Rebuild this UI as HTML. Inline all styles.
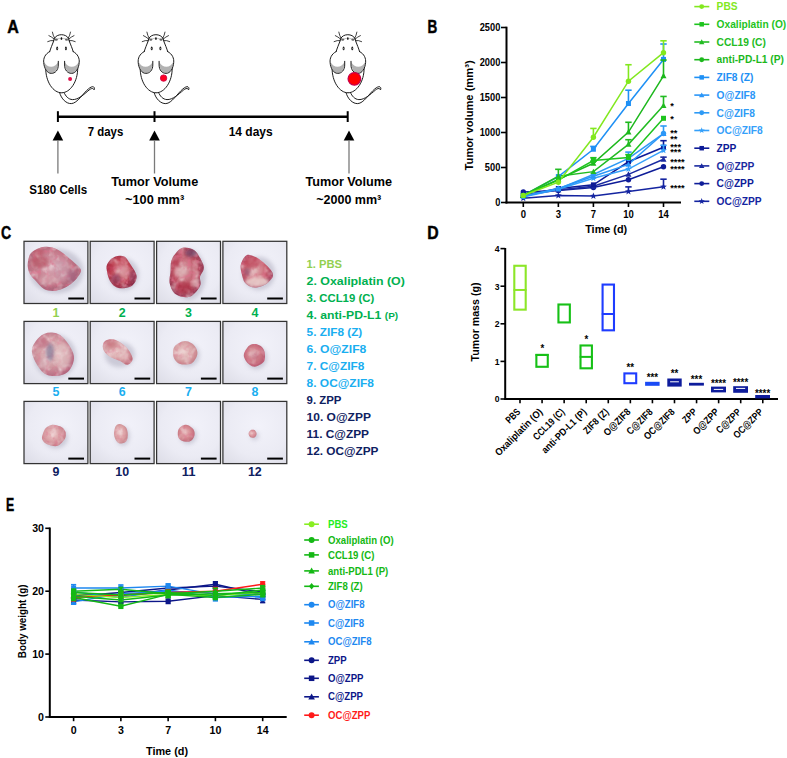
<!DOCTYPE html>
<html><head><meta charset="utf-8"><style>
html,body{margin:0;padding:0;background:#fff;}
svg{display:block;font-family:"Liberation Sans", sans-serif;}
</style></head><body>
<svg width="787" height="758" viewBox="0 0 787 758">
<defs>

<g id="mouse" stroke="#111" stroke-width="0.95" fill="#fff" stroke-linejoin="round" stroke-linecap="round">
 <path d="M -1.7 58.6 C 0 65, 5 69.8, 10 69.6 C 16 69.4, 22 59, 27 55 C 29 53.2, 31 52.4, 32.2 52.8 C 33.2 53.4, 33.4 55, 32.8 55.8 L 32 54.8 C 31.2 54.2, 29.5 54.5, 27.8 56 C 22.6 60.4, 17 65.8, 11.2 65.6 C 7 65.4, 4.2 62, 2.8 58.6 Z"/>
 <path d="M -15.6 34 C -15.8 48, -8 58.8, 0.3 58.8 C 8.6 58.8, 16.6 48, 16.4 34"/>
 <path d="M -11.6 17.6 C -16.4 20, -18 24.5, -17.6 28.5 C -17.2 34.5, -14 39.4, -10 39.4 C -6 39.4, -3 36, -3 31 L -3 27.3 L -3 24 Z" stroke="none"/>
 <path d="M 11.9 17.6 C 16.7 20, 18.3 24.5, 17.9 28.5 C 17.5 34.5, 14.3 39.4, 10.3 39.4 C 6.3 39.4, 3.3 36, 3.3 31 L 3.3 24 Z" stroke="none"/>
 <path d="M -11.6 17.6 C -10.5 14, -9 10.5, -8 8 C -7.6 6.5, -7.4 5.5, -7.0 4.6 C -4.5 -0.6, 4.8 -0.6, 7.3 4.6 C 7.7 5.5, 7.9 6.5, 8.3 8 C 9.3 10.5, 10.8 14, 11.9 17.6 Z" stroke="none"/>
 <path d="M -17.4 27.6 C -17 35, -13.5 39, -10 39 C -6.5 39, -3.4 36.2, -3.2 28 C -4.6 31.2, -7.4 32.8, -10.2 32.8 C -13.2 32.8, -15.8 31.2, -17.4 27.6 Z" fill="#b2b2b2" stroke="none"/>
 <path d="M 17.7 27.6 C 17.3 35, 13.8 39, 10.3 39 C 6.8 39, 3.7 36.2, 3.5 28 C 4.9 31.2, 7.7 32.8, 10.5 32.8 C 13.5 32.8, 16.1 31.2, 17.7 27.6 Z" fill="#b2b2b2" stroke="none"/>
 <path d="M -11.6 17.6 C -16.4 20, -18 24.5, -17.6 28.5 C -17.2 34.5, -14 39.4, -10 39.4 C -6 39.4, -3 36, -3 31 L -3 27.3" fill="none"/>
 <path d="M 11.9 17.6 C 16.7 20, 18.3 24.5, 17.9 28.5 C 17.5 34.5, 14.3 39.4, 10.3 39.4 C 6.3 39.4, 3.3 36, 3.3 31 L 3.3 27.3" fill="none"/>
 <path d="M -11.6 17.6 C -10.5 14, -9 10.5, -8 8 C -7.6 6.5, -7.4 5.5, -7.0 4.6 C -4.5 -0.6, 4.8 -0.6, 7.3 4.6 C 7.7 5.5, 7.9 6.5, 8.3 8 C 9.3 10.5, 10.8 14, 11.9 17.6" fill="none"/>
 <path d="M -5.6 6.0 C -3.5 3.6, 3.8 3.6, 5.9 6.0" fill="none" stroke="#999" stroke-width="0.6"/>
 <path d="M 0.15 2.9 C 1.2 3.8, 1.4 5.4, 0.15 6.1 C -1.1 5.4, -0.9 3.8, 0.15 2.9 Z" fill="#111" stroke="none"/>
 <ellipse cx="-4.1" cy="14.4" rx="0.95" ry="1.9" fill="#111" stroke="none"/><ellipse cx="-4.1" cy="14.6" rx="0.35" ry="0.8" fill="#bbb" stroke="none"/>
 <ellipse cx="4.6" cy="14.4" rx="0.95" ry="1.9" fill="#111" stroke="none"/><ellipse cx="4.6" cy="14.6" rx="0.35" ry="0.8" fill="#bbb" stroke="none"/>
 <path d="M -6.6 4.4 Q -8.4 1.2 -8.9 -1.9 M -6.9 5.2 Q -10 2.6 -12.4 1.6 M -7.4 6.6 Q -10.5 6.0 -13.6 7.6 M 6.9 4.4 Q 8.7 1.2 9.2 -1.9 M 7.2 5.2 Q 10.3 2.6 12.7 1.6 M 7.7 6.6 Q 10.8 6.0 13.9 7.6" fill="none" stroke-width="0.8"/>
 <ellipse cx="-5.0" cy="5.6" rx="1.5" ry="1.2" fill="#666" stroke="none"/>
 <ellipse cx="5.2" cy="5.6" rx="1.5" ry="1.2" fill="#666" stroke="none"/>
</g>
<radialGradient id="bg" cx="0.55" cy="0.4" r="0.8">
 <stop offset="0" stop-color="#f2f2fa"/><stop offset="0.6" stop-color="#ebebf4"/><stop offset="1" stop-color="#dcdce6"/></radialGradient>
<filter id="blur1" x="-30%" y="-30%" width="160%" height="160%"><feGaussianBlur stdDeviation="1.6"/></filter>
<filter id="blur05" x="-30%" y="-30%" width="160%" height="160%"><feGaussianBlur stdDeviation="0.6"/></filter>
<filter id="blur3" x="-50%" y="-50%" width="200%" height="200%"><feGaussianBlur stdDeviation="3"/></filter>
<filter id="mdark" x="0" y="0" width="100%" height="100%" filterUnits="objectBoundingBox">
 <feTurbulence type="fractalNoise" baseFrequency="0.24" numOctaves="2" seed="4"/>
 <feColorMatrix type="matrix" values="0 0 0 0 0.72  0 0 0 0 0.16  0 0 0 0 0.26  3.4 0 0 0 -1.6"/>
 <feComposite operator="in" in2="SourceAlpha"/></filter>
<filter id="mlight" x="0" y="0" width="100%" height="100%" filterUnits="objectBoundingBox">
 <feTurbulence type="fractalNoise" baseFrequency="0.14" numOctaves="2" seed="9"/>
 <feColorMatrix type="matrix" values="0 0 0 0 0.90  0 0 0 0 0.76  0 0 0 0 0.78  2.6 0 0 0 -1.2"/>
 <feComposite operator="in" in2="SourceAlpha"/></filter>
<filter id="edge" x="-20%" y="-20%" width="140%" height="140%"><feGaussianBlur stdDeviation="1.2"/></filter>
<filter id="shadow" x="-50%" y="-50%" width="200%" height="200%"><feGaussianBlur stdDeviation="2.2"/></filter>
<radialGradient id="tg0" cx="0.45" cy="0.45" r="0.62"><stop offset="0" stop-color="#dab0bc"/><stop offset="0.55" stop-color="#c47a8a"/><stop offset="1" stop-color="#a05a72"/></radialGradient>
<clipPath id="tc0"><path d="M 30.60 253.50 C 32.02 251.83, 34.63 250.12, 37.00 249.00 C 39.37 247.88, 42.30 247.05, 44.80 246.80 C 47.30 246.55, 49.47 246.80, 52.00 247.50 C 54.53 248.20, 57.00 249.08, 60.00 251.00 C 63.00 252.92, 67.00 256.50, 70.00 259.00 C 73.00 261.50, 76.18 264.00, 78.00 266.00 C 79.82 268.00, 81.07 269.00, 80.90 271.00 C 80.73 273.00, 78.73 275.80, 77.00 278.00 C 75.27 280.20, 73.00 282.37, 70.50 284.20 C 68.00 286.03, 64.90 287.88, 62.00 289.00 C 59.10 290.12, 56.10 290.90, 53.10 290.90 C 50.10 290.90, 46.77 290.53, 44.00 289.00 C 41.23 287.47, 38.83 284.20, 36.50 281.70 C 34.17 279.20, 31.47 276.62, 30.00 274.00 C 28.53 271.38, 27.95 268.50, 27.70 266.00 C 27.45 263.50, 28.02 261.08, 28.50 259.00 C 28.98 256.92, 29.18 255.17, 30.60 253.50 Z"/></clipPath>
<radialGradient id="tg1" cx="0.45" cy="0.45" r="0.62"><stop offset="0" stop-color="#d8949c"/><stop offset="0.55" stop-color="#c04252"/><stop offset="1" stop-color="#862c48"/></radialGradient>
<clipPath id="tc1"><path d="M 114.90 256.80 C 117.47 255.90, 121.60 255.30, 124.10 256.40 C 126.60 257.50, 127.82 260.15, 129.90 263.40 C 131.98 266.65, 136.32 272.15, 136.60 275.90 C 136.88 279.65, 134.65 283.88, 131.60 285.90 C 128.55 287.92, 121.90 288.83, 118.30 288.00 C 114.70 287.17, 111.95 284.17, 110.00 280.90 C 108.05 277.63, 106.82 271.58, 106.60 268.40 C 106.38 265.22, 107.32 263.73, 108.70 261.80 C 110.08 259.87, 112.33 257.70, 114.90 256.80 Z"/></clipPath>
<radialGradient id="tg2" cx="0.45" cy="0.45" r="0.62"><stop offset="0" stop-color="#d8a4aa"/><stop offset="0.55" stop-color="#bc4e60"/><stop offset="1" stop-color="#843450"/></radialGradient>
<clipPath id="tc2"><path d="M 183.80 247.50 C 186.35 247.02, 189.80 248.08, 192.00 249.00 C 194.20 249.92, 195.17 250.50, 197.00 253.00 C 198.83 255.50, 201.92 261.17, 203.00 264.00 C 204.08 266.83, 204.00 267.87, 203.50 270.00 C 203.00 272.13, 200.50 274.33, 200.00 276.80 C 199.50 279.27, 201.33 282.10, 200.50 284.80 C 199.67 287.50, 197.18 290.92, 195.00 293.00 C 192.82 295.08, 190.75 297.18, 187.40 297.30 C 184.05 297.42, 177.87 296.08, 174.90 293.70 C 171.93 291.32, 170.33 286.62, 169.60 283.00 C 168.87 279.38, 170.22 275.67, 170.50 272.00 C 170.78 268.33, 170.27 264.35, 171.30 261.00 C 172.33 257.65, 174.62 254.15, 176.70 251.90 C 178.78 249.65, 181.25 247.98, 183.80 247.50 Z"/></clipPath>
<radialGradient id="tg3" cx="0.45" cy="0.45" r="0.62"><stop offset="0" stop-color="#e2bcbc"/><stop offset="0.55" stop-color="#c85e6e"/><stop offset="1" stop-color="#9a4260"/></radialGradient>
<clipPath id="tc3"><path d="M 249.60 254.90 C 252.27 255.35, 256.43 256.85, 260.30 259.90 C 264.17 262.95, 271.62 269.35, 272.80 273.20 C 273.98 277.05, 270.37 280.62, 267.40 283.00 C 264.43 285.38, 258.70 287.50, 255.00 287.50 C 251.30 287.50, 247.43 285.38, 245.20 283.00 C 242.97 280.62, 242.35 276.17, 241.60 273.20 C 240.85 270.23, 240.25 267.87, 240.70 265.20 C 241.15 262.53, 242.82 258.92, 244.30 257.20 C 245.78 255.48, 246.93 254.45, 249.60 254.90 Z"/></clipPath>
<radialGradient id="tg4" cx="0.45" cy="0.45" r="0.62"><stop offset="0" stop-color="#e2c6c8"/><stop offset="0.55" stop-color="#cf98a0"/><stop offset="1" stop-color="#b0607a"/></radialGradient>
<clipPath id="tc4"><path d="M 50.60 332.60 C 54.62 332.60, 59.22 333.72, 63.10 337.60 C 66.98 341.48, 73.08 350.22, 73.90 355.90 C 74.72 361.58, 71.33 368.37, 68.00 371.70 C 64.67 375.03, 58.32 376.03, 53.90 375.90 C 49.48 375.77, 45.17 374.92, 41.50 370.90 C 37.83 366.88, 32.32 357.35, 31.90 351.80 C 31.48 346.25, 35.88 340.80, 39.00 337.60 C 42.12 334.40, 46.58 332.60, 50.60 332.60 Z"/></clipPath>
<radialGradient id="tg5" cx="0.45" cy="0.45" r="0.62"><stop offset="0" stop-color="#e8c6c6"/><stop offset="0.55" stop-color="#d6a0a4"/><stop offset="1" stop-color="#c06c7a"/></radialGradient>
<clipPath id="tc5"><path d="M 105.00 341.00 C 107.00 339.55, 111.45 338.75, 115.00 339.80 C 118.55 340.85, 123.37 344.18, 126.30 347.30 C 129.23 350.42, 132.40 355.58, 132.60 358.50 C 132.80 361.42, 129.60 364.38, 127.50 364.80 C 125.40 365.22, 123.12 362.47, 120.00 361.00 C 116.88 359.53, 111.63 358.08, 108.80 356.00 C 105.97 353.92, 103.63 351.00, 103.00 348.50 C 102.37 346.00, 103.00 342.45, 105.00 341.00 Z"/></clipPath>
<radialGradient id="tg6" cx="0.45" cy="0.45" r="0.62"><stop offset="0" stop-color="#ecd0ce"/><stop offset="0.55" stop-color="#daa8aa"/><stop offset="1" stop-color="#c07880"/></radialGradient>
<radialGradient id="tg7" cx="0.45" cy="0.45" r="0.62"><stop offset="0" stop-color="#e4b8ba"/><stop offset="0.55" stop-color="#cc7884"/><stop offset="1" stop-color="#b0506a"/></radialGradient>
<clipPath id="tc7"><path d="M 264.97 355.30 C 265.03 357.22, 264.99 359.58, 264.13 361.16 C 263.27 362.74, 261.36 363.86, 259.79 364.79 C 258.22 365.73, 256.39 366.79, 254.70 366.79 C 253.01 366.78, 251.11 365.75, 249.62 364.76 C 248.14 363.77, 246.76 362.41, 245.79 360.84 C 244.82 359.26, 243.78 357.14, 243.78 355.30 C 243.79 353.46, 244.88 351.43, 245.82 349.78 C 246.75 348.13, 247.91 346.36, 249.39 345.40 C 250.87 344.45, 252.94 344.01, 254.70 344.04 C 256.46 344.06, 258.42 344.61, 259.93 345.55 C 261.45 346.49, 262.95 348.03, 263.79 349.65 C 264.63 351.28, 264.91 353.38, 264.97 355.30 Z"/></clipPath>
<radialGradient id="tg8" cx="0.45" cy="0.45" r="0.62"><stop offset="0" stop-color="#ecc8c8"/><stop offset="0.55" stop-color="#d89ca2"/><stop offset="1" stop-color="#c07480"/></radialGradient>
<radialGradient id="tg9" cx="0.45" cy="0.45" r="0.62"><stop offset="0" stop-color="#eccccc"/><stop offset="0.55" stop-color="#dca4a6"/><stop offset="1" stop-color="#c07c84"/></radialGradient>
<radialGradient id="tg10" cx="0.45" cy="0.45" r="0.62"><stop offset="0" stop-color="#e8bcbe"/><stop offset="0.55" stop-color="#d4888f"/><stop offset="1" stop-color="#b86474"/></radialGradient>
<radialGradient id="tg11" cx="0.45" cy="0.45" r="0.62"><stop offset="0" stop-color="#ecc4c4"/><stop offset="0.55" stop-color="#d8949a"/><stop offset="1" stop-color="#c07480"/></radialGradient>
</defs>
<rect width="787" height="758" fill="#fff"/>
<text x="7.30" y="33.30" font-size="18.5" fill="#000" text-anchor="start" font-weight="bold" textLength="11.60" lengthAdjust="spacingAndGlyphs" stroke="#000" stroke-width="0.45">A</text>
<text x="427.60" y="33.00" font-size="18.5" fill="#000" text-anchor="start" font-weight="bold" textLength="9.80" lengthAdjust="spacingAndGlyphs" stroke="#000" stroke-width="0.45">B</text>
<text x="1.10" y="239.00" font-size="19" fill="#000" text-anchor="start" font-weight="bold" textLength="10.20" lengthAdjust="spacingAndGlyphs" stroke="#000" stroke-width="0.45">C</text>
<text x="427.20" y="238.60" font-size="17.5" fill="#000" text-anchor="start" font-weight="bold" textLength="11.40" lengthAdjust="spacingAndGlyphs" stroke="#000" stroke-width="0.45">D</text>
<text x="5.90" y="510.60" font-size="19" fill="#000" text-anchor="start" font-weight="bold" textLength="8.20" lengthAdjust="spacingAndGlyphs" stroke="#000" stroke-width="0.45">E</text>
<use href="#mouse" x="61.3" y="34"/>
<use href="#mouse" x="155.8" y="34"/>
<use href="#mouse" x="347.7" y="34"/>
<circle cx="70.1" cy="78.9" r="2.0" fill="#e0104a"/>
<circle cx="163.6" cy="78.1" r="3.2" fill="#ff0022" stroke="#d0084a" stroke-width="0.9"/>
<circle cx="354.4" cy="78.85" r="6.3" fill="#ff0000" stroke="#c8004a" stroke-width="1.3"/>
<line x1="57.90" y1="116.70" x2="347.70" y2="116.70" stroke="#000" stroke-width="2.6"/>
<line x1="57.90" y1="111.20" x2="57.90" y2="122.00" stroke="#000" stroke-width="2.0"/>
<line x1="154.50" y1="111.20" x2="154.50" y2="122.00" stroke="#000" stroke-width="2.0"/>
<line x1="347.70" y1="111.20" x2="347.70" y2="122.00" stroke="#000" stroke-width="2.0"/>
<path d="M 57.90 130.4 L 63.20 140.4 L 52.60 140.4 Z" fill="#000"/>
<line x1="57.90" y1="140.00" x2="57.90" y2="173.50" stroke="#7a7a7a" stroke-width="1.3"/>
<path d="M 154.50 130.4 L 159.80 140.4 L 149.20 140.4 Z" fill="#000"/>
<line x1="154.50" y1="140.00" x2="154.50" y2="173.50" stroke="#7a7a7a" stroke-width="1.3"/>
<path d="M 349.00 130.4 L 354.30 140.4 L 343.70 140.4 Z" fill="#000"/>
<line x1="349.00" y1="140.00" x2="349.00" y2="173.50" stroke="#7a7a7a" stroke-width="1.3"/>
<text x="105.50" y="135.60" font-size="12.5" fill="#000" text-anchor="middle" font-weight="bold" textLength="35.50" lengthAdjust="spacingAndGlyphs">7 days</text>
<text x="250.70" y="135.60" font-size="12.5" fill="#000" text-anchor="middle" font-weight="bold" textLength="44.00" lengthAdjust="spacingAndGlyphs">14 days</text>
<text x="29.20" y="194.40" font-size="12.5" fill="#000" text-anchor="start" font-weight="bold" textLength="57.90" lengthAdjust="spacingAndGlyphs">S180 Cells</text>
<text x="111.30" y="186.20" font-size="12.5" fill="#000" text-anchor="start" font-weight="bold" textLength="86.90" lengthAdjust="spacingAndGlyphs">Tumor Volume</text>
<text x="125.00" y="203.60" font-size="12.5" fill="#000" text-anchor="start" font-weight="bold" textLength="59.20" lengthAdjust="spacingAndGlyphs">~100 mm³</text>
<text x="305.50" y="186.20" font-size="12.5" fill="#000" text-anchor="start" font-weight="bold" textLength="86.50" lengthAdjust="spacingAndGlyphs">Tumor Volume</text>
<text x="316.20" y="203.60" font-size="12.5" fill="#000" text-anchor="start" font-weight="bold" textLength="65.10" lengthAdjust="spacingAndGlyphs">~2000 mm³</text>
<line x1="506.50" y1="26.70" x2="506.50" y2="203.50" stroke="#000" stroke-width="2"/>
<line x1="505.50" y1="202.50" x2="681.00" y2="202.50" stroke="#000" stroke-width="2"/>
<line x1="501.00" y1="202.50" x2="506.50" y2="202.50" stroke="#000" stroke-width="1.6"/>
<text x="500.30" y="205.90" font-size="10.2" fill="#000" text-anchor="end" font-weight="bold" textLength="5.15" lengthAdjust="spacingAndGlyphs">0</text>
<line x1="501.00" y1="167.50" x2="506.50" y2="167.50" stroke="#000" stroke-width="1.6"/>
<text x="500.30" y="170.90" font-size="10.2" fill="#000" text-anchor="end" font-weight="bold" textLength="15.45" lengthAdjust="spacingAndGlyphs">500</text>
<line x1="501.00" y1="132.50" x2="506.50" y2="132.50" stroke="#000" stroke-width="1.6"/>
<text x="500.30" y="135.90" font-size="10.2" fill="#000" text-anchor="end" font-weight="bold" textLength="20.60" lengthAdjust="spacingAndGlyphs">1000</text>
<line x1="501.00" y1="97.50" x2="506.50" y2="97.50" stroke="#000" stroke-width="1.6"/>
<text x="500.30" y="100.90" font-size="10.2" fill="#000" text-anchor="end" font-weight="bold" textLength="20.60" lengthAdjust="spacingAndGlyphs">1500</text>
<line x1="501.00" y1="62.50" x2="506.50" y2="62.50" stroke="#000" stroke-width="1.6"/>
<text x="500.30" y="65.90" font-size="10.2" fill="#000" text-anchor="end" font-weight="bold" textLength="20.60" lengthAdjust="spacingAndGlyphs">2000</text>
<line x1="501.00" y1="27.50" x2="506.50" y2="27.50" stroke="#000" stroke-width="1.6"/>
<text x="500.30" y="30.90" font-size="10.2" fill="#000" text-anchor="end" font-weight="bold" textLength="20.60" lengthAdjust="spacingAndGlyphs">2500</text>
<line x1="523.30" y1="202.50" x2="523.30" y2="207.00" stroke="#000" stroke-width="1.6"/>
<text x="523.30" y="217.80" font-size="10.6" fill="#000" text-anchor="middle" font-weight="bold" textLength="5.30" lengthAdjust="spacingAndGlyphs">0</text>
<line x1="558.35" y1="202.50" x2="558.35" y2="207.00" stroke="#000" stroke-width="1.6"/>
<text x="558.35" y="217.80" font-size="10.6" fill="#000" text-anchor="middle" font-weight="bold" textLength="5.30" lengthAdjust="spacingAndGlyphs">3</text>
<line x1="593.40" y1="202.50" x2="593.40" y2="207.00" stroke="#000" stroke-width="1.6"/>
<text x="593.40" y="217.80" font-size="10.6" fill="#000" text-anchor="middle" font-weight="bold" textLength="5.30" lengthAdjust="spacingAndGlyphs">7</text>
<line x1="628.45" y1="202.50" x2="628.45" y2="207.00" stroke="#000" stroke-width="1.6"/>
<text x="628.45" y="217.80" font-size="10.6" fill="#000" text-anchor="middle" font-weight="bold" textLength="10.60" lengthAdjust="spacingAndGlyphs">10</text>
<line x1="663.50" y1="202.50" x2="663.50" y2="207.00" stroke="#000" stroke-width="1.6"/>
<text x="663.50" y="217.80" font-size="10.6" fill="#000" text-anchor="middle" font-weight="bold" textLength="10.60" lengthAdjust="spacingAndGlyphs">14</text>
<text x="606.20" y="233.10" font-size="11" fill="#000" text-anchor="middle" font-weight="bold" textLength="42.00" lengthAdjust="spacingAndGlyphs">Time (d)</text>
<text x="472.80" y="115.40" font-size="11" fill="#000" text-anchor="middle" font-weight="bold" textLength="110.00" lengthAdjust="spacingAndGlyphs" transform="rotate(-90 472.80 115.40)">Tumor volume (mm³)</text>
<polyline points="523.30,198.30 558.35,195.50 593.40,196.06 628.45,191.51 663.50,186.75" fill="none" stroke="#1424a0" stroke-width="1.5"/>
<polyline points="523.30,192.00 558.35,190.60 593.40,187.59 628.45,179.68 663.50,166.80" fill="none" stroke="#0e1c98" stroke-width="1.5"/>
<polyline points="523.30,195.50 558.35,189.90 593.40,186.26 628.45,174.36 663.50,159.24" fill="none" stroke="#1a2aa0" stroke-width="1.5"/>
<polyline points="523.30,195.50 558.35,188.50 593.40,184.86 628.45,161.76 663.50,147.27" fill="none" stroke="#0c1a96" stroke-width="1.5"/>
<polyline points="523.30,196.90 558.35,189.20 593.40,178.28 628.45,169.04 663.50,150.42" fill="none" stroke="#35a0fa" stroke-width="1.5"/>
<polyline points="523.30,196.20 558.35,188.85 593.40,174.50 628.45,158.40 663.50,133.55" fill="none" stroke="#2e9af5" stroke-width="1.5"/>
<polyline points="523.30,196.20 558.35,188.50 593.40,176.32 628.45,164.42 663.50,133.55" fill="none" stroke="#2a96f8" stroke-width="1.5"/>
<polyline points="523.30,195.50 558.35,176.60 593.40,149.23 628.45,103.52 663.50,59.42" fill="none" stroke="#1e90f5" stroke-width="1.5"/>
<polyline points="523.30,195.50 558.35,179.40 593.40,163.30 628.45,132.08 663.50,75.80" fill="none" stroke="#1cb81c" stroke-width="1.5"/>
<polyline points="523.30,195.50 558.35,176.32 593.40,171.63 628.45,144.33 663.50,105.55" fill="none" stroke="#22bb22" stroke-width="1.5"/>
<polyline points="523.30,195.50 558.35,180.10 593.40,160.50 628.45,157.42 663.50,118.29" fill="none" stroke="#1ec41e" stroke-width="1.5"/>
<polyline points="523.30,195.50 558.35,182.20 593.40,137.26 628.45,81.19 663.50,52.70" fill="none" stroke="#82e81e" stroke-width="1.5"/>
<polygon points="523.30,194.70 524.18,197.09 526.72,197.19 524.73,198.76 525.42,201.21 523.30,199.80 521.18,201.21 521.87,198.76 519.88,197.19 522.42,197.09" fill="#1424a0"/>
<polygon points="558.35,191.90 559.23,194.29 561.77,194.39 559.78,195.96 560.47,198.41 558.35,197.00 556.23,198.41 556.92,195.96 554.93,194.39 557.47,194.29" fill="#1424a0"/>
<polygon points="593.40,192.46 594.28,194.85 596.82,194.95 594.83,196.52 595.52,198.97 593.40,197.56 591.28,198.97 591.97,196.52 589.98,194.95 592.52,194.85" fill="#1424a0"/>
<line x1="628.45" y1="191.51" x2="628.45" y2="186.89" stroke="#1424a0" stroke-width="1.6"/>
<line x1="625.25" y1="186.89" x2="631.65" y2="186.89" stroke="#1424a0" stroke-width="1.6"/>
<polygon points="628.45,187.91 629.33,190.30 631.87,190.40 629.88,191.97 630.57,194.42 628.45,193.01 626.33,194.42 627.02,191.97 625.03,190.40 627.57,190.30" fill="#1424a0"/>
<line x1="663.50" y1="186.75" x2="663.50" y2="179.19" stroke="#1424a0" stroke-width="1.6"/>
<line x1="660.30" y1="179.19" x2="666.70" y2="179.19" stroke="#1424a0" stroke-width="1.6"/>
<polygon points="663.50,183.15 664.38,185.54 666.92,185.64 664.93,187.21 665.62,189.66 663.50,188.25 661.38,189.66 662.07,187.21 660.08,185.64 662.62,185.54" fill="#1424a0"/>
<circle cx="523.30" cy="192.00" r="2.70" fill="#0e1c98"/>
<circle cx="558.35" cy="190.60" r="2.70" fill="#0e1c98"/>
<circle cx="593.40" cy="187.59" r="2.70" fill="#0e1c98"/>
<circle cx="628.45" cy="179.68" r="2.70" fill="#0e1c98"/>
<circle cx="663.50" cy="166.80" r="2.70" fill="#0e1c98"/>
<path d="M 523.30 192.50 L 526.30 197.90 L 520.30 197.90 Z" fill="#1a2aa0"/>
<path d="M 558.35 186.90 L 561.35 192.30 L 555.35 192.30 Z" fill="#1a2aa0"/>
<path d="M 593.40 183.26 L 596.40 188.66 L 590.40 188.66 Z" fill="#1a2aa0"/>
<path d="M 628.45 171.36 L 631.45 176.76 L 625.45 176.76 Z" fill="#1a2aa0"/>
<line x1="663.50" y1="159.24" x2="663.50" y2="157.14" stroke="#1a2aa0" stroke-width="1.6"/>
<line x1="660.30" y1="157.14" x2="666.70" y2="157.14" stroke="#1a2aa0" stroke-width="1.6"/>
<path d="M 663.50 156.24 L 666.50 161.64 L 660.50 161.64 Z" fill="#1a2aa0"/>
<rect x="520.80" y="193.00" width="5.00" height="5.00" fill="#0c1a96"/>
<rect x="555.85" y="186.00" width="5.00" height="5.00" fill="#0c1a96"/>
<rect x="590.90" y="182.36" width="5.00" height="5.00" fill="#0c1a96"/>
<rect x="625.95" y="159.26" width="5.00" height="5.00" fill="#0c1a96"/>
<line x1="663.50" y1="147.27" x2="663.50" y2="140.69" stroke="#0c1a96" stroke-width="1.6"/>
<line x1="660.30" y1="140.69" x2="666.70" y2="140.69" stroke="#0c1a96" stroke-width="1.6"/>
<rect x="661.00" y="144.77" width="5.00" height="5.00" fill="#0c1a96"/>
<polygon points="523.30,193.30 524.18,195.69 526.72,195.79 524.73,197.36 525.42,199.81 523.30,198.40 521.18,199.81 521.87,197.36 519.88,195.79 522.42,195.69" fill="#35a0fa"/>
<polygon points="558.35,185.60 559.23,187.99 561.77,188.09 559.78,189.66 560.47,192.11 558.35,190.70 556.23,192.11 556.92,189.66 554.93,188.09 557.47,187.99" fill="#35a0fa"/>
<polygon points="593.40,174.68 594.28,177.07 596.82,177.17 594.83,178.74 595.52,181.19 593.40,179.78 591.28,181.19 591.97,178.74 589.98,177.17 592.52,177.07" fill="#35a0fa"/>
<polygon points="628.45,165.44 629.33,167.83 631.87,167.93 629.88,169.50 630.57,171.95 628.45,170.54 626.33,171.95 627.02,169.50 625.03,167.93 627.57,167.83" fill="#35a0fa"/>
<line x1="663.50" y1="150.42" x2="663.50" y2="145.31" stroke="#35a0fa" stroke-width="1.6"/>
<line x1="660.30" y1="145.31" x2="666.70" y2="145.31" stroke="#35a0fa" stroke-width="1.6"/>
<polygon points="663.50,146.82 664.38,149.21 666.92,149.31 664.93,150.88 665.62,153.33 663.50,151.92 661.38,153.33 662.07,150.88 660.08,149.31 662.62,149.21" fill="#35a0fa"/>
<circle cx="523.30" cy="196.20" r="2.70" fill="#2e9af5"/>
<circle cx="558.35" cy="188.85" r="2.70" fill="#2e9af5"/>
<circle cx="593.40" cy="174.50" r="2.70" fill="#2e9af5"/>
<line x1="628.45" y1="158.40" x2="628.45" y2="152.10" stroke="#2e9af5" stroke-width="1.6"/>
<line x1="625.25" y1="152.10" x2="631.65" y2="152.10" stroke="#2e9af5" stroke-width="1.6"/>
<circle cx="628.45" cy="158.40" r="2.70" fill="#2e9af5"/>
<line x1="663.50" y1="133.55" x2="663.50" y2="125.99" stroke="#2e9af5" stroke-width="1.6"/>
<line x1="660.30" y1="125.99" x2="666.70" y2="125.99" stroke="#2e9af5" stroke-width="1.6"/>
<circle cx="663.50" cy="133.55" r="2.70" fill="#2e9af5"/>
<path d="M 523.30 193.20 L 526.30 198.60 L 520.30 198.60 Z" fill="#2a96f8"/>
<path d="M 558.35 185.50 L 561.35 190.90 L 555.35 190.90 Z" fill="#2a96f8"/>
<path d="M 593.40 173.32 L 596.40 178.72 L 590.40 178.72 Z" fill="#2a96f8"/>
<path d="M 628.45 161.42 L 631.45 166.82 L 625.45 166.82 Z" fill="#2a96f8"/>
<path d="M 663.50 130.55 L 666.50 135.95 L 660.50 135.95 Z" fill="#2a96f8"/>
<rect x="520.80" y="193.00" width="5.00" height="5.00" fill="#1e90f5"/>
<rect x="555.85" y="174.10" width="5.00" height="5.00" fill="#1e90f5"/>
<line x1="593.40" y1="149.23" x2="593.40" y2="146.43" stroke="#1e90f5" stroke-width="1.6"/>
<line x1="590.20" y1="146.43" x2="596.60" y2="146.43" stroke="#1e90f5" stroke-width="1.6"/>
<rect x="590.90" y="146.73" width="5.00" height="5.00" fill="#1e90f5"/>
<line x1="628.45" y1="103.52" x2="628.45" y2="90.22" stroke="#1e90f5" stroke-width="1.6"/>
<line x1="625.25" y1="90.22" x2="631.65" y2="90.22" stroke="#1e90f5" stroke-width="1.6"/>
<rect x="625.95" y="101.02" width="5.00" height="5.00" fill="#1e90f5"/>
<line x1="663.50" y1="59.42" x2="663.50" y2="44.02" stroke="#1e90f5" stroke-width="1.6"/>
<line x1="660.30" y1="44.02" x2="666.70" y2="44.02" stroke="#1e90f5" stroke-width="1.6"/>
<rect x="661.00" y="56.92" width="5.00" height="5.00" fill="#1e90f5"/>
<path d="M 523.30 192.50 L 526.30 197.90 L 520.30 197.90 Z" fill="#1cb81c"/>
<path d="M 558.35 176.40 L 561.35 181.80 L 555.35 181.80 Z" fill="#1cb81c"/>
<line x1="593.40" y1="163.30" x2="593.40" y2="161.20" stroke="#1cb81c" stroke-width="1.6"/>
<line x1="590.20" y1="161.20" x2="596.60" y2="161.20" stroke="#1cb81c" stroke-width="1.6"/>
<path d="M 593.40 160.30 L 596.40 165.70 L 590.40 165.70 Z" fill="#1cb81c"/>
<line x1="628.45" y1="132.08" x2="628.45" y2="122.28" stroke="#1cb81c" stroke-width="1.6"/>
<line x1="625.25" y1="122.28" x2="631.65" y2="122.28" stroke="#1cb81c" stroke-width="1.6"/>
<path d="M 628.45 129.08 L 631.45 134.48 L 625.45 134.48 Z" fill="#1cb81c"/>
<line x1="663.50" y1="75.80" x2="663.50" y2="60.05" stroke="#1cb81c" stroke-width="1.6"/>
<line x1="660.30" y1="60.05" x2="666.70" y2="60.05" stroke="#1cb81c" stroke-width="1.6"/>
<path d="M 663.50 72.80 L 666.50 78.20 L 660.50 78.20 Z" fill="#1cb81c"/>
<path d="M 523.30 192.50 L 526.30 197.90 L 520.30 197.90 Z" fill="#22bb22"/>
<line x1="558.35" y1="176.32" x2="558.35" y2="169.32" stroke="#22bb22" stroke-width="1.6"/>
<line x1="555.15" y1="169.32" x2="561.55" y2="169.32" stroke="#22bb22" stroke-width="1.6"/>
<path d="M 558.35 173.32 L 561.35 178.72 L 555.35 178.72 Z" fill="#22bb22"/>
<path d="M 593.40 168.63 L 596.40 174.03 L 590.40 174.03 Z" fill="#22bb22"/>
<line x1="628.45" y1="144.33" x2="628.45" y2="139.71" stroke="#22bb22" stroke-width="1.6"/>
<line x1="625.25" y1="139.71" x2="631.65" y2="139.71" stroke="#22bb22" stroke-width="1.6"/>
<path d="M 628.45 141.33 L 631.45 146.73 L 625.45 146.73 Z" fill="#22bb22"/>
<line x1="663.50" y1="105.55" x2="663.50" y2="96.45" stroke="#22bb22" stroke-width="1.6"/>
<line x1="660.30" y1="96.45" x2="666.70" y2="96.45" stroke="#22bb22" stroke-width="1.6"/>
<path d="M 663.50 102.55 L 666.50 107.95 L 660.50 107.95 Z" fill="#22bb22"/>
<rect x="520.80" y="193.00" width="5.00" height="5.00" fill="#1ec41e"/>
<rect x="555.85" y="177.60" width="5.00" height="5.00" fill="#1ec41e"/>
<line x1="593.40" y1="160.50" x2="593.40" y2="157.70" stroke="#1ec41e" stroke-width="1.6"/>
<line x1="590.20" y1="157.70" x2="596.60" y2="157.70" stroke="#1ec41e" stroke-width="1.6"/>
<rect x="590.90" y="158.00" width="5.00" height="5.00" fill="#1ec41e"/>
<line x1="628.45" y1="157.42" x2="628.45" y2="154.62" stroke="#1ec41e" stroke-width="1.6"/>
<line x1="625.25" y1="154.62" x2="631.65" y2="154.62" stroke="#1ec41e" stroke-width="1.6"/>
<rect x="625.95" y="154.92" width="5.00" height="5.00" fill="#1ec41e"/>
<rect x="661.00" y="115.79" width="5.00" height="5.00" fill="#1ec41e"/>
<circle cx="523.30" cy="195.50" r="2.70" fill="#82e81e"/>
<circle cx="558.35" cy="182.20" r="2.70" fill="#82e81e"/>
<line x1="593.40" y1="137.26" x2="593.40" y2="128.44" stroke="#82e81e" stroke-width="1.6"/>
<line x1="590.20" y1="128.44" x2="596.60" y2="128.44" stroke="#82e81e" stroke-width="1.6"/>
<circle cx="593.40" cy="137.26" r="2.70" fill="#82e81e"/>
<line x1="628.45" y1="81.19" x2="628.45" y2="64.74" stroke="#82e81e" stroke-width="1.6"/>
<line x1="625.25" y1="64.74" x2="631.65" y2="64.74" stroke="#82e81e" stroke-width="1.6"/>
<circle cx="628.45" cy="81.19" r="2.70" fill="#82e81e"/>
<line x1="663.50" y1="52.70" x2="663.50" y2="40.80" stroke="#82e81e" stroke-width="1.6"/>
<line x1="660.30" y1="40.80" x2="666.70" y2="40.80" stroke="#82e81e" stroke-width="1.6"/>
<circle cx="663.50" cy="52.70" r="2.70" fill="#82e81e"/>
<text x="670.20" y="109.30" font-size="9" fill="#000" text-anchor="start" font-weight="bold" textLength="3.60" lengthAdjust="spacingAndGlyphs">*</text>
<text x="670.20" y="122.20" font-size="9" fill="#000" text-anchor="start" font-weight="bold" textLength="3.60" lengthAdjust="spacingAndGlyphs">*</text>
<text x="670.20" y="135.60" font-size="9" fill="#000" text-anchor="start" font-weight="bold" textLength="7.20" lengthAdjust="spacingAndGlyphs">**</text>
<text x="670.20" y="141.60" font-size="9" fill="#000" text-anchor="start" font-weight="bold" textLength="7.20" lengthAdjust="spacingAndGlyphs">**</text>
<text x="670.20" y="150.40" font-size="9" fill="#000" text-anchor="start" font-weight="bold" textLength="10.80" lengthAdjust="spacingAndGlyphs">***</text>
<text x="670.20" y="155.30" font-size="9" fill="#000" text-anchor="start" font-weight="bold" textLength="10.80" lengthAdjust="spacingAndGlyphs">***</text>
<text x="670.20" y="165.40" font-size="9" fill="#000" text-anchor="start" font-weight="bold" textLength="14.40" lengthAdjust="spacingAndGlyphs">****</text>
<text x="670.20" y="171.70" font-size="9" fill="#000" text-anchor="start" font-weight="bold" textLength="14.40" lengthAdjust="spacingAndGlyphs">****</text>
<text x="670.20" y="190.80" font-size="9" fill="#000" text-anchor="start" font-weight="bold" textLength="14.40" lengthAdjust="spacingAndGlyphs">****</text>
<line x1="694.30" y1="6.60" x2="709.30" y2="6.60" stroke="#82e81e" stroke-width="1.6"/>
<circle cx="701.70" cy="6.60" r="2.43" fill="#82e81e"/>
<text x="716.60" y="10.30" font-size="10.2" fill="#82e81e" text-anchor="start" font-weight="bold">PBS</text>
<line x1="694.30" y1="24.30" x2="709.30" y2="24.30" stroke="#1ec41e" stroke-width="1.6"/>
<rect x="699.45" y="22.05" width="4.50" height="4.50" fill="#1ec41e"/>
<text x="716.60" y="28.00" font-size="10.2" fill="#1ec41e" text-anchor="start" font-weight="bold">Oxaliplatin (O)</text>
<line x1="694.30" y1="42.00" x2="709.30" y2="42.00" stroke="#22bb22" stroke-width="1.6"/>
<path d="M 701.70 39.30 L 704.40 44.16 L 699.00 44.16 Z" fill="#22bb22"/>
<text x="716.60" y="45.70" font-size="10.2" fill="#22bb22" text-anchor="start" font-weight="bold">CCL19 (C)</text>
<line x1="694.30" y1="59.70" x2="709.30" y2="59.70" stroke="#1cb81c" stroke-width="1.6"/>
<circle cx="701.70" cy="59.70" r="2.43" fill="#1cb81c"/>
<text x="716.60" y="63.40" font-size="10.2" fill="#1cb81c" text-anchor="start" font-weight="bold">anti-PD-L1 (P)</text>
<line x1="694.30" y1="77.40" x2="709.30" y2="77.40" stroke="#1e90f5" stroke-width="1.6"/>
<rect x="699.45" y="75.15" width="4.50" height="4.50" fill="#1e90f5"/>
<text x="716.60" y="81.10" font-size="10.2" fill="#1e90f5" text-anchor="start" font-weight="bold">ZIF8 (Z)</text>
<line x1="694.30" y1="95.10" x2="709.30" y2="95.10" stroke="#2a96f8" stroke-width="1.6"/>
<path d="M 701.70 92.40 L 704.40 97.26 L 699.00 97.26 Z" fill="#2a96f8"/>
<text x="716.60" y="98.80" font-size="10.2" fill="#2a96f8" text-anchor="start" font-weight="bold">O@ZIF8</text>
<line x1="694.30" y1="112.80" x2="709.30" y2="112.80" stroke="#2e9af5" stroke-width="1.6"/>
<circle cx="701.70" cy="112.80" r="2.43" fill="#2e9af5"/>
<text x="716.60" y="116.50" font-size="10.2" fill="#2e9af5" text-anchor="start" font-weight="bold">C@ZIF8</text>
<line x1="694.30" y1="130.50" x2="709.30" y2="130.50" stroke="#35a0fa" stroke-width="1.6"/>
<polygon points="701.70,127.26 702.49,129.41 704.78,129.50 702.98,130.92 703.60,133.12 701.70,131.85 699.80,133.12 700.42,130.92 698.62,129.50 700.91,129.41" fill="#35a0fa"/>
<text x="716.60" y="134.20" font-size="10.2" fill="#35a0fa" text-anchor="start" font-weight="bold">OC@ZIF8</text>
<line x1="694.30" y1="148.20" x2="709.30" y2="148.20" stroke="#0c1a96" stroke-width="1.6"/>
<rect x="699.45" y="145.95" width="4.50" height="4.50" fill="#0c1a96"/>
<text x="716.60" y="151.90" font-size="10.2" fill="#0c1a96" text-anchor="start" font-weight="bold">ZPP</text>
<line x1="694.30" y1="165.90" x2="709.30" y2="165.90" stroke="#1a2aa0" stroke-width="1.6"/>
<path d="M 701.70 163.20 L 704.40 168.06 L 699.00 168.06 Z" fill="#1a2aa0"/>
<text x="716.60" y="169.60" font-size="10.2" fill="#1a2aa0" text-anchor="start" font-weight="bold">O@ZPP</text>
<line x1="694.30" y1="183.60" x2="709.30" y2="183.60" stroke="#0e1c98" stroke-width="1.6"/>
<circle cx="701.70" cy="183.60" r="2.43" fill="#0e1c98"/>
<text x="716.60" y="187.30" font-size="10.2" fill="#0e1c98" text-anchor="start" font-weight="bold">C@ZPP</text>
<line x1="694.30" y1="201.30" x2="709.30" y2="201.30" stroke="#1424a0" stroke-width="1.6"/>
<polygon points="701.70,198.06 702.49,200.21 704.78,200.30 702.98,201.72 703.60,203.92 701.70,202.65 699.80,203.92 700.42,201.72 698.62,200.30 700.91,200.21" fill="#1424a0"/>
<text x="716.60" y="205.00" font-size="10.2" fill="#1424a0" text-anchor="start" font-weight="bold">OC@ZPP</text>
<rect x="24.00" y="241.30" width="63.9" height="62.2" fill="url(#bg)" stroke="#333" stroke-width="1.25"/>
<rect x="90.20" y="241.30" width="63.9" height="62.2" fill="url(#bg)" stroke="#333" stroke-width="1.25"/>
<rect x="156.60" y="241.30" width="63.9" height="62.2" fill="url(#bg)" stroke="#333" stroke-width="1.25"/>
<rect x="222.90" y="241.30" width="63.9" height="62.2" fill="url(#bg)" stroke="#333" stroke-width="1.25"/>
<rect x="24.00" y="321.40" width="63.9" height="62.2" fill="url(#bg)" stroke="#333" stroke-width="1.25"/>
<rect x="90.20" y="321.40" width="63.9" height="62.2" fill="url(#bg)" stroke="#333" stroke-width="1.25"/>
<rect x="156.60" y="321.40" width="63.9" height="62.2" fill="url(#bg)" stroke="#333" stroke-width="1.25"/>
<rect x="222.90" y="321.40" width="63.9" height="62.2" fill="url(#bg)" stroke="#333" stroke-width="1.25"/>
<rect x="24.00" y="401.40" width="63.9" height="62.2" fill="url(#bg)" stroke="#333" stroke-width="1.25"/>
<rect x="90.20" y="401.40" width="63.9" height="62.2" fill="url(#bg)" stroke="#333" stroke-width="1.25"/>
<rect x="156.60" y="401.40" width="63.9" height="62.2" fill="url(#bg)" stroke="#333" stroke-width="1.25"/>
<rect x="222.90" y="401.40" width="63.9" height="62.2" fill="url(#bg)" stroke="#333" stroke-width="1.25"/>
<ellipse cx="56.30" cy="271.05" rx="27.13" ry="22.49" fill="#a8a6b8" opacity="0.5" filter="url(#shadow)"/>
<path d="M 30.60 253.50 C 32.02 251.83, 34.63 250.12, 37.00 249.00 C 39.37 247.88, 42.30 247.05, 44.80 246.80 C 47.30 246.55, 49.47 246.80, 52.00 247.50 C 54.53 248.20, 57.00 249.08, 60.00 251.00 C 63.00 252.92, 67.00 256.50, 70.00 259.00 C 73.00 261.50, 76.18 264.00, 78.00 266.00 C 79.82 268.00, 81.07 269.00, 80.90 271.00 C 80.73 273.00, 78.73 275.80, 77.00 278.00 C 75.27 280.20, 73.00 282.37, 70.50 284.20 C 68.00 286.03, 64.90 287.88, 62.00 289.00 C 59.10 290.12, 56.10 290.90, 53.10 290.90 C 50.10 290.90, 46.77 290.53, 44.00 289.00 C 41.23 287.47, 38.83 284.20, 36.50 281.70 C 34.17 279.20, 31.47 276.62, 30.00 274.00 C 28.53 271.38, 27.95 268.50, 27.70 266.00 C 27.45 263.50, 28.02 261.08, 28.50 259.00 C 28.98 256.92, 29.18 255.17, 30.60 253.50 Z" fill="url(#tg0)"/>
<path d="M 30.60 253.50 C 32.02 251.83, 34.63 250.12, 37.00 249.00 C 39.37 247.88, 42.30 247.05, 44.80 246.80 C 47.30 246.55, 49.47 246.80, 52.00 247.50 C 54.53 248.20, 57.00 249.08, 60.00 251.00 C 63.00 252.92, 67.00 256.50, 70.00 259.00 C 73.00 261.50, 76.18 264.00, 78.00 266.00 C 79.82 268.00, 81.07 269.00, 80.90 271.00 C 80.73 273.00, 78.73 275.80, 77.00 278.00 C 75.27 280.20, 73.00 282.37, 70.50 284.20 C 68.00 286.03, 64.90 287.88, 62.00 289.00 C 59.10 290.12, 56.10 290.90, 53.10 290.90 C 50.10 290.90, 46.77 290.53, 44.00 289.00 C 41.23 287.47, 38.83 284.20, 36.50 281.70 C 34.17 279.20, 31.47 276.62, 30.00 274.00 C 28.53 271.38, 27.95 268.50, 27.70 266.00 C 27.45 263.50, 28.02 261.08, 28.50 259.00 C 28.98 256.92, 29.18 255.17, 30.60 253.50 Z" fill="#000" filter="url(#mlight)" opacity="0.6"/>
<path d="M 30.60 253.50 C 32.02 251.83, 34.63 250.12, 37.00 249.00 C 39.37 247.88, 42.30 247.05, 44.80 246.80 C 47.30 246.55, 49.47 246.80, 52.00 247.50 C 54.53 248.20, 57.00 249.08, 60.00 251.00 C 63.00 252.92, 67.00 256.50, 70.00 259.00 C 73.00 261.50, 76.18 264.00, 78.00 266.00 C 79.82 268.00, 81.07 269.00, 80.90 271.00 C 80.73 273.00, 78.73 275.80, 77.00 278.00 C 75.27 280.20, 73.00 282.37, 70.50 284.20 C 68.00 286.03, 64.90 287.88, 62.00 289.00 C 59.10 290.12, 56.10 290.90, 53.10 290.90 C 50.10 290.90, 46.77 290.53, 44.00 289.00 C 41.23 287.47, 38.83 284.20, 36.50 281.70 C 34.17 279.20, 31.47 276.62, 30.00 274.00 C 28.53 271.38, 27.95 268.50, 27.70 266.00 C 27.45 263.50, 28.02 261.08, 28.50 259.00 C 28.98 256.92, 29.18 255.17, 30.60 253.50 Z" fill="#000" filter="url(#mdark)" opacity="0.55"/>
<g clip-path="url(#tc0)">
<ellipse cx="40" cy="262" rx="9" ry="6" fill="#b04858" opacity="0.55" filter="url(#blur1)"/>
<ellipse cx="62" cy="270" rx="8" ry="12" fill="#c8a0b0" opacity="0.5" filter="url(#blur1)"/>
<ellipse cx="72" cy="276" rx="5" ry="7" fill="#9a6080" opacity="0.45" filter="url(#blur1)"/>
<ellipse cx="48" cy="280" rx="10" ry="5" fill="#d8b0b8" opacity="0.5" filter="url(#blur1)"/>
<ellipse cx="38" cy="252" rx="6" ry="4" fill="#c05060" opacity="0.5" filter="url(#blur1)"/>
</g>
<ellipse cx="123.60" cy="274.40" rx="15.30" ry="16.12" fill="#a8a6b8" opacity="0.5" filter="url(#shadow)"/>
<path d="M 114.90 256.80 C 117.47 255.90, 121.60 255.30, 124.10 256.40 C 126.60 257.50, 127.82 260.15, 129.90 263.40 C 131.98 266.65, 136.32 272.15, 136.60 275.90 C 136.88 279.65, 134.65 283.88, 131.60 285.90 C 128.55 287.92, 121.90 288.83, 118.30 288.00 C 114.70 287.17, 111.95 284.17, 110.00 280.90 C 108.05 277.63, 106.82 271.58, 106.60 268.40 C 106.38 265.22, 107.32 263.73, 108.70 261.80 C 110.08 259.87, 112.33 257.70, 114.90 256.80 Z" fill="url(#tg1)"/>
<path d="M 114.90 256.80 C 117.47 255.90, 121.60 255.30, 124.10 256.40 C 126.60 257.50, 127.82 260.15, 129.90 263.40 C 131.98 266.65, 136.32 272.15, 136.60 275.90 C 136.88 279.65, 134.65 283.88, 131.60 285.90 C 128.55 287.92, 121.90 288.83, 118.30 288.00 C 114.70 287.17, 111.95 284.17, 110.00 280.90 C 108.05 277.63, 106.82 271.58, 106.60 268.40 C 106.38 265.22, 107.32 263.73, 108.70 261.80 C 110.08 259.87, 112.33 257.70, 114.90 256.80 Z" fill="#000" filter="url(#mlight)" opacity="0.45"/>
<path d="M 114.90 256.80 C 117.47 255.90, 121.60 255.30, 124.10 256.40 C 126.60 257.50, 127.82 260.15, 129.90 263.40 C 131.98 266.65, 136.32 272.15, 136.60 275.90 C 136.88 279.65, 134.65 283.88, 131.60 285.90 C 128.55 287.92, 121.90 288.83, 118.30 288.00 C 114.70 287.17, 111.95 284.17, 110.00 280.90 C 108.05 277.63, 106.82 271.58, 106.60 268.40 C 106.38 265.22, 107.32 263.73, 108.70 261.80 C 110.08 259.87, 112.33 257.70, 114.90 256.80 Z" fill="#000" filter="url(#mdark)" opacity="0.7"/>
<g clip-path="url(#tc1)">
<ellipse cx="116" cy="279" rx="5" ry="5" fill="#803858" opacity="0.6" filter="url(#blur1)"/>
<ellipse cx="125" cy="272" rx="5" ry="7" fill="#e0b0b4" opacity="0.5" filter="url(#blur1)"/>
<ellipse cx="110" cy="268" rx="4" ry="4" fill="#b02840" opacity="0.6" filter="url(#blur1)"/>
<ellipse cx="132" cy="276" rx="3" ry="6" fill="#905070" opacity="0.5" filter="url(#blur1)"/>
</g>
<ellipse cx="188.55" cy="274.60" rx="17.29" ry="25.40" fill="#a8a6b8" opacity="0.5" filter="url(#shadow)"/>
<path d="M 183.80 247.50 C 186.35 247.02, 189.80 248.08, 192.00 249.00 C 194.20 249.92, 195.17 250.50, 197.00 253.00 C 198.83 255.50, 201.92 261.17, 203.00 264.00 C 204.08 266.83, 204.00 267.87, 203.50 270.00 C 203.00 272.13, 200.50 274.33, 200.00 276.80 C 199.50 279.27, 201.33 282.10, 200.50 284.80 C 199.67 287.50, 197.18 290.92, 195.00 293.00 C 192.82 295.08, 190.75 297.18, 187.40 297.30 C 184.05 297.42, 177.87 296.08, 174.90 293.70 C 171.93 291.32, 170.33 286.62, 169.60 283.00 C 168.87 279.38, 170.22 275.67, 170.50 272.00 C 170.78 268.33, 170.27 264.35, 171.30 261.00 C 172.33 257.65, 174.62 254.15, 176.70 251.90 C 178.78 249.65, 181.25 247.98, 183.80 247.50 Z" fill="url(#tg2)"/>
<path d="M 183.80 247.50 C 186.35 247.02, 189.80 248.08, 192.00 249.00 C 194.20 249.92, 195.17 250.50, 197.00 253.00 C 198.83 255.50, 201.92 261.17, 203.00 264.00 C 204.08 266.83, 204.00 267.87, 203.50 270.00 C 203.00 272.13, 200.50 274.33, 200.00 276.80 C 199.50 279.27, 201.33 282.10, 200.50 284.80 C 199.67 287.50, 197.18 290.92, 195.00 293.00 C 192.82 295.08, 190.75 297.18, 187.40 297.30 C 184.05 297.42, 177.87 296.08, 174.90 293.70 C 171.93 291.32, 170.33 286.62, 169.60 283.00 C 168.87 279.38, 170.22 275.67, 170.50 272.00 C 170.78 268.33, 170.27 264.35, 171.30 261.00 C 172.33 257.65, 174.62 254.15, 176.70 251.90 C 178.78 249.65, 181.25 247.98, 183.80 247.50 Z" fill="#000" filter="url(#mlight)" opacity="0.55"/>
<path d="M 183.80 247.50 C 186.35 247.02, 189.80 248.08, 192.00 249.00 C 194.20 249.92, 195.17 250.50, 197.00 253.00 C 198.83 255.50, 201.92 261.17, 203.00 264.00 C 204.08 266.83, 204.00 267.87, 203.50 270.00 C 203.00 272.13, 200.50 274.33, 200.00 276.80 C 199.50 279.27, 201.33 282.10, 200.50 284.80 C 199.67 287.50, 197.18 290.92, 195.00 293.00 C 192.82 295.08, 190.75 297.18, 187.40 297.30 C 184.05 297.42, 177.87 296.08, 174.90 293.70 C 171.93 291.32, 170.33 286.62, 169.60 283.00 C 168.87 279.38, 170.22 275.67, 170.50 272.00 C 170.78 268.33, 170.27 264.35, 171.30 261.00 C 172.33 257.65, 174.62 254.15, 176.70 251.90 C 178.78 249.65, 181.25 247.98, 183.80 247.50 Z" fill="#000" filter="url(#mdark)" opacity="0.65"/>
<g clip-path="url(#tc2)">
<ellipse cx="191" cy="253" rx="6" ry="4" fill="#6a4468" opacity="0.7" filter="url(#blur1)"/>
<ellipse cx="180" cy="272" rx="6" ry="5" fill="#e2c4c4" opacity="0.6" filter="url(#blur1)"/>
<ellipse cx="184" cy="288" rx="8" ry="6" fill="#a82c40" opacity="0.6" filter="url(#blur1)"/>
<ellipse cx="195" cy="283" rx="4" ry="4" fill="#e6cccc" opacity="0.6" filter="url(#blur1)"/>
<ellipse cx="176" cy="262" rx="4" ry="5" fill="#b03048" opacity="0.5" filter="url(#blur1)"/>
</g>
<ellipse cx="258.75" cy="273.40" rx="16.37" ry="16.63" fill="#a8a6b8" opacity="0.5" filter="url(#shadow)"/>
<path d="M 249.60 254.90 C 252.27 255.35, 256.43 256.85, 260.30 259.90 C 264.17 262.95, 271.62 269.35, 272.80 273.20 C 273.98 277.05, 270.37 280.62, 267.40 283.00 C 264.43 285.38, 258.70 287.50, 255.00 287.50 C 251.30 287.50, 247.43 285.38, 245.20 283.00 C 242.97 280.62, 242.35 276.17, 241.60 273.20 C 240.85 270.23, 240.25 267.87, 240.70 265.20 C 241.15 262.53, 242.82 258.92, 244.30 257.20 C 245.78 255.48, 246.93 254.45, 249.60 254.90 Z" fill="url(#tg3)"/>
<path d="M 249.60 254.90 C 252.27 255.35, 256.43 256.85, 260.30 259.90 C 264.17 262.95, 271.62 269.35, 272.80 273.20 C 273.98 277.05, 270.37 280.62, 267.40 283.00 C 264.43 285.38, 258.70 287.50, 255.00 287.50 C 251.30 287.50, 247.43 285.38, 245.20 283.00 C 242.97 280.62, 242.35 276.17, 241.60 273.20 C 240.85 270.23, 240.25 267.87, 240.70 265.20 C 241.15 262.53, 242.82 258.92, 244.30 257.20 C 245.78 255.48, 246.93 254.45, 249.60 254.90 Z" fill="#000" filter="url(#mlight)" opacity="0.6"/>
<path d="M 249.60 254.90 C 252.27 255.35, 256.43 256.85, 260.30 259.90 C 264.17 262.95, 271.62 269.35, 272.80 273.20 C 273.98 277.05, 270.37 280.62, 267.40 283.00 C 264.43 285.38, 258.70 287.50, 255.00 287.50 C 251.30 287.50, 247.43 285.38, 245.20 283.00 C 242.97 280.62, 242.35 276.17, 241.60 273.20 C 240.85 270.23, 240.25 267.87, 240.70 265.20 C 241.15 262.53, 242.82 258.92, 244.30 257.20 C 245.78 255.48, 246.93 254.45, 249.60 254.90 Z" fill="#000" filter="url(#mdark)" opacity="0.5"/>
<g clip-path="url(#tc3)">
<ellipse cx="257" cy="282" rx="12" ry="5" fill="#ead4d0" opacity="0.85" filter="url(#blur1)"/>
<ellipse cx="252" cy="263" rx="8" ry="6" fill="#b83a50" opacity="0.55" filter="url(#blur1)"/>
<ellipse cx="247" cy="272" rx="3" ry="4" fill="#7a4a6a" opacity="0.5" filter="url(#blur1)"/>
</g>
<ellipse cx="54.90" cy="356.45" rx="21.42" ry="22.08" fill="#a8a6b8" opacity="0.5" filter="url(#shadow)"/>
<path d="M 50.60 332.60 C 54.62 332.60, 59.22 333.72, 63.10 337.60 C 66.98 341.48, 73.08 350.22, 73.90 355.90 C 74.72 361.58, 71.33 368.37, 68.00 371.70 C 64.67 375.03, 58.32 376.03, 53.90 375.90 C 49.48 375.77, 45.17 374.92, 41.50 370.90 C 37.83 366.88, 32.32 357.35, 31.90 351.80 C 31.48 346.25, 35.88 340.80, 39.00 337.60 C 42.12 334.40, 46.58 332.60, 50.60 332.60 Z" fill="url(#tg4)"/>
<path d="M 50.60 332.60 C 54.62 332.60, 59.22 333.72, 63.10 337.60 C 66.98 341.48, 73.08 350.22, 73.90 355.90 C 74.72 361.58, 71.33 368.37, 68.00 371.70 C 64.67 375.03, 58.32 376.03, 53.90 375.90 C 49.48 375.77, 45.17 374.92, 41.50 370.90 C 37.83 366.88, 32.32 357.35, 31.90 351.80 C 31.48 346.25, 35.88 340.80, 39.00 337.60 C 42.12 334.40, 46.58 332.60, 50.60 332.60 Z" fill="#000" filter="url(#mlight)" opacity="0.7"/>
<path d="M 50.60 332.60 C 54.62 332.60, 59.22 333.72, 63.10 337.60 C 66.98 341.48, 73.08 350.22, 73.90 355.90 C 74.72 361.58, 71.33 368.37, 68.00 371.70 C 64.67 375.03, 58.32 376.03, 53.90 375.90 C 49.48 375.77, 45.17 374.92, 41.50 370.90 C 37.83 366.88, 32.32 357.35, 31.90 351.80 C 31.48 346.25, 35.88 340.80, 39.00 337.60 C 42.12 334.40, 46.58 332.60, 50.60 332.60 Z" fill="#000" filter="url(#mdark)" opacity="0.35"/>
<g clip-path="url(#tc4)">
<ellipse cx="50" cy="352" rx="4" ry="9" fill="#7a7494" opacity="0.65" filter="url(#blur1)"/>
<ellipse cx="63" cy="356" rx="8" ry="13" fill="#e6cccc" opacity="0.55" filter="url(#blur1)"/>
<ellipse cx="42" cy="343" rx="7" ry="5" fill="#b85c74" opacity="0.5" filter="url(#blur1)"/>
<ellipse cx="44" cy="364" rx="6" ry="5" fill="#d8b4bc" opacity="0.5" filter="url(#blur1)"/>
</g>
<ellipse cx="119.80" cy="354.50" rx="15.10" ry="12.75" fill="#a8a6b8" opacity="0.5" filter="url(#shadow)"/>
<path d="M 105.00 341.00 C 107.00 339.55, 111.45 338.75, 115.00 339.80 C 118.55 340.85, 123.37 344.18, 126.30 347.30 C 129.23 350.42, 132.40 355.58, 132.60 358.50 C 132.80 361.42, 129.60 364.38, 127.50 364.80 C 125.40 365.22, 123.12 362.47, 120.00 361.00 C 116.88 359.53, 111.63 358.08, 108.80 356.00 C 105.97 353.92, 103.63 351.00, 103.00 348.50 C 102.37 346.00, 103.00 342.45, 105.00 341.00 Z" fill="url(#tg5)"/>
<path d="M 105.00 341.00 C 107.00 339.55, 111.45 338.75, 115.00 339.80 C 118.55 340.85, 123.37 344.18, 126.30 347.30 C 129.23 350.42, 132.40 355.58, 132.60 358.50 C 132.80 361.42, 129.60 364.38, 127.50 364.80 C 125.40 365.22, 123.12 362.47, 120.00 361.00 C 116.88 359.53, 111.63 358.08, 108.80 356.00 C 105.97 353.92, 103.63 351.00, 103.00 348.50 C 102.37 346.00, 103.00 342.45, 105.00 341.00 Z" fill="#000" filter="url(#mlight)" opacity="0.6"/>
<path d="M 105.00 341.00 C 107.00 339.55, 111.45 338.75, 115.00 339.80 C 118.55 340.85, 123.37 344.18, 126.30 347.30 C 129.23 350.42, 132.40 355.58, 132.60 358.50 C 132.80 361.42, 129.60 364.38, 127.50 364.80 C 125.40 365.22, 123.12 362.47, 120.00 361.00 C 116.88 359.53, 111.63 358.08, 108.80 356.00 C 105.97 353.92, 103.63 351.00, 103.00 348.50 C 102.37 346.00, 103.00 342.45, 105.00 341.00 Z" fill="#000" filter="url(#mdark)" opacity="0.35"/>
<g clip-path="url(#tc5)">
<ellipse cx="112" cy="345" rx="5" ry="4" fill="#c0606c" opacity="0.5" filter="url(#blur1)"/>
<ellipse cx="124" cy="356" rx="5" ry="4" fill="#ecd4d2" opacity="0.5" filter="url(#blur1)"/>
</g>
<ellipse cx="187.23" cy="355.03" rx="12.43" ry="12.00" fill="#a8a6b8" opacity="0.5" filter="url(#shadow)"/>
<path d="M 197.42 353.00 C 197.43 354.94, 196.62 357.08, 195.62 358.83 C 194.62 360.59, 193.18 362.56, 191.43 363.52 C 189.67 364.48, 187.20 364.61, 185.10 364.59 C 183.00 364.57, 180.62 364.36, 178.83 363.42 C 177.05 362.48, 175.36 360.67, 174.39 358.94 C 173.43 357.20, 173.06 354.99, 173.04 353.00 C 173.02 351.01, 173.26 348.66, 174.27 347.00 C 175.27 345.33, 177.28 343.98, 179.08 342.99 C 180.89 342.00, 183.09 341.07, 185.10 341.06 C 187.11 341.06, 189.39 341.94, 191.13 342.97 C 192.88 343.99, 194.52 345.52, 195.57 347.20 C 196.62 348.87, 197.42 351.06, 197.42 353.00 Z" fill="url(#tg6)"/>
<path d="M 197.42 353.00 C 197.43 354.94, 196.62 357.08, 195.62 358.83 C 194.62 360.59, 193.18 362.56, 191.43 363.52 C 189.67 364.48, 187.20 364.61, 185.10 364.59 C 183.00 364.57, 180.62 364.36, 178.83 363.42 C 177.05 362.48, 175.36 360.67, 174.39 358.94 C 173.43 357.20, 173.06 354.99, 173.04 353.00 C 173.02 351.01, 173.26 348.66, 174.27 347.00 C 175.27 345.33, 177.28 343.98, 179.08 342.99 C 180.89 342.00, 183.09 341.07, 185.10 341.06 C 187.11 341.06, 189.39 341.94, 191.13 342.97 C 192.88 343.99, 194.52 345.52, 195.57 347.20 C 196.62 348.87, 197.42 351.06, 197.42 353.00 Z" fill="#000" filter="url(#mlight)" opacity="0.6"/>
<path d="M 197.42 353.00 C 197.43 354.94, 196.62 357.08, 195.62 358.83 C 194.62 360.59, 193.18 362.56, 191.43 363.52 C 189.67 364.48, 187.20 364.61, 185.10 364.59 C 183.00 364.57, 180.62 364.36, 178.83 363.42 C 177.05 362.48, 175.36 360.67, 174.39 358.94 C 173.43 357.20, 173.06 354.99, 173.04 353.00 C 173.02 351.01, 173.26 348.66, 174.27 347.00 C 175.27 345.33, 177.28 343.98, 179.08 342.99 C 180.89 342.00, 183.09 341.07, 185.10 341.06 C 187.11 341.06, 189.39 341.94, 191.13 342.97 C 192.88 343.99, 194.52 345.52, 195.57 347.20 C 196.62 348.87, 197.42 351.06, 197.42 353.00 Z" fill="#000" filter="url(#mdark)" opacity="0.3"/>
<ellipse cx="256.38" cy="357.61" rx="10.81" ry="11.60" fill="#a8a6b8" opacity="0.5" filter="url(#shadow)"/>
<path d="M 264.97 355.30 C 265.03 357.22, 264.99 359.58, 264.13 361.16 C 263.27 362.74, 261.36 363.86, 259.79 364.79 C 258.22 365.73, 256.39 366.79, 254.70 366.79 C 253.01 366.78, 251.11 365.75, 249.62 364.76 C 248.14 363.77, 246.76 362.41, 245.79 360.84 C 244.82 359.26, 243.78 357.14, 243.78 355.30 C 243.79 353.46, 244.88 351.43, 245.82 349.78 C 246.75 348.13, 247.91 346.36, 249.39 345.40 C 250.87 344.45, 252.94 344.01, 254.70 344.04 C 256.46 344.06, 258.42 344.61, 259.93 345.55 C 261.45 346.49, 262.95 348.03, 263.79 349.65 C 264.63 351.28, 264.91 353.38, 264.97 355.30 Z" fill="url(#tg7)"/>
<path d="M 264.97 355.30 C 265.03 357.22, 264.99 359.58, 264.13 361.16 C 263.27 362.74, 261.36 363.86, 259.79 364.79 C 258.22 365.73, 256.39 366.79, 254.70 366.79 C 253.01 366.78, 251.11 365.75, 249.62 364.76 C 248.14 363.77, 246.76 362.41, 245.79 360.84 C 244.82 359.26, 243.78 357.14, 243.78 355.30 C 243.79 353.46, 244.88 351.43, 245.82 349.78 C 246.75 348.13, 247.91 346.36, 249.39 345.40 C 250.87 344.45, 252.94 344.01, 254.70 344.04 C 256.46 344.06, 258.42 344.61, 259.93 345.55 C 261.45 346.49, 262.95 348.03, 263.79 349.65 C 264.63 351.28, 264.91 353.38, 264.97 355.30 Z" fill="#000" filter="url(#mlight)" opacity="0.5"/>
<path d="M 264.97 355.30 C 265.03 357.22, 264.99 359.58, 264.13 361.16 C 263.27 362.74, 261.36 363.86, 259.79 364.79 C 258.22 365.73, 256.39 366.79, 254.70 366.79 C 253.01 366.78, 251.11 365.75, 249.62 364.76 C 248.14 363.77, 246.76 362.41, 245.79 360.84 C 244.82 359.26, 243.78 357.14, 243.78 355.30 C 243.79 353.46, 244.88 351.43, 245.82 349.78 C 246.75 348.13, 247.91 346.36, 249.39 345.40 C 250.87 344.45, 252.94 344.01, 254.70 344.04 C 256.46 344.06, 258.42 344.61, 259.93 345.55 C 261.45 346.49, 262.95 348.03, 263.79 349.65 C 264.63 351.28, 264.91 353.38, 264.97 355.30 Z" fill="#000" filter="url(#mdark)" opacity="0.45"/>
<g clip-path="url(#tc7)">
<ellipse cx="255" cy="356" rx="4" ry="4" fill="#b05068" opacity="0.4" filter="url(#blur1)"/>
</g>
<ellipse cx="55.85" cy="437.73" rx="12.04" ry="10.80" fill="#a8a6b8" opacity="0.5" filter="url(#shadow)"/>
<path d="M 65.65 432.31 C 66.10 434.01, 65.99 436.14, 65.38 437.85 C 64.77 439.55, 63.40 441.15, 62.00 442.53 C 60.60 443.91, 58.83 445.64, 56.97 446.11 C 55.12 446.59, 52.79 445.86, 50.87 445.39 C 48.95 444.91, 46.91 444.39, 45.44 443.26 C 43.97 442.13, 42.43 440.34, 42.05 438.63 C 41.67 436.92, 42.52 434.80, 43.16 433.03 C 43.79 431.25, 44.50 429.31, 45.86 427.96 C 47.22 426.62, 49.39 425.37, 51.30 424.94 C 53.21 424.51, 55.45 424.93, 57.34 425.38 C 59.23 425.83, 61.26 426.48, 62.65 427.64 C 64.03 428.79, 65.19 430.60, 65.65 432.31 Z" fill="url(#tg8)"/>
<path d="M 65.65 432.31 C 66.10 434.01, 65.99 436.14, 65.38 437.85 C 64.77 439.55, 63.40 441.15, 62.00 442.53 C 60.60 443.91, 58.83 445.64, 56.97 446.11 C 55.12 446.59, 52.79 445.86, 50.87 445.39 C 48.95 444.91, 46.91 444.39, 45.44 443.26 C 43.97 442.13, 42.43 440.34, 42.05 438.63 C 41.67 436.92, 42.52 434.80, 43.16 433.03 C 43.79 431.25, 44.50 429.31, 45.86 427.96 C 47.22 426.62, 49.39 425.37, 51.30 424.94 C 53.21 424.51, 55.45 424.93, 57.34 425.38 C 59.23 425.83, 61.26 426.48, 62.65 427.64 C 64.03 428.79, 65.19 430.60, 65.65 432.31 Z" fill="#000" filter="url(#mlight)" opacity="0.6"/>
<path d="M 65.65 432.31 C 66.10 434.01, 65.99 436.14, 65.38 437.85 C 64.77 439.55, 63.40 441.15, 62.00 442.53 C 60.60 443.91, 58.83 445.64, 56.97 446.11 C 55.12 446.59, 52.79 445.86, 50.87 445.39 C 48.95 444.91, 46.91 444.39, 45.44 443.26 C 43.97 442.13, 42.43 440.34, 42.05 438.63 C 41.67 436.92, 42.52 434.80, 43.16 433.03 C 43.79 431.25, 44.50 429.31, 45.86 427.96 C 47.22 426.62, 49.39 425.37, 51.30 424.94 C 53.21 424.51, 55.45 424.93, 57.34 425.38 C 59.23 425.83, 61.26 426.48, 62.65 427.64 C 64.03 428.79, 65.19 430.60, 65.65 432.31 Z" fill="#000" filter="url(#mdark)" opacity="0.35"/>
<ellipse cx="122.87" cy="435.94" rx="6.91" ry="9.81" fill="#a8a6b8" opacity="0.5" filter="url(#shadow)"/>
<path d="M 127.64 432.61 C 127.89 434.29, 127.83 436.14, 127.52 437.67 C 127.21 439.21, 126.61 440.85, 125.79 441.80 C 124.97 442.75, 123.72 443.12, 122.59 443.36 C 121.45 443.59, 120.13 443.77, 119.00 443.20 C 117.87 442.63, 116.63 441.31, 115.81 439.94 C 114.99 438.57, 114.33 436.65, 114.10 435.00 C 113.88 433.35, 114.14 431.56, 114.46 430.03 C 114.78 428.51, 115.25 426.83, 116.04 425.85 C 116.83 424.86, 118.08 424.28, 119.19 424.12 C 120.30 423.97, 121.55 424.33, 122.70 424.91 C 123.84 425.49, 125.23 426.30, 126.05 427.58 C 126.88 428.87, 127.40 430.93, 127.64 432.61 Z" fill="url(#tg9)"/>
<path d="M 127.64 432.61 C 127.89 434.29, 127.83 436.14, 127.52 437.67 C 127.21 439.21, 126.61 440.85, 125.79 441.80 C 124.97 442.75, 123.72 443.12, 122.59 443.36 C 121.45 443.59, 120.13 443.77, 119.00 443.20 C 117.87 442.63, 116.63 441.31, 115.81 439.94 C 114.99 438.57, 114.33 436.65, 114.10 435.00 C 113.88 433.35, 114.14 431.56, 114.46 430.03 C 114.78 428.51, 115.25 426.83, 116.04 425.85 C 116.83 424.86, 118.08 424.28, 119.19 424.12 C 120.30 423.97, 121.55 424.33, 122.70 424.91 C 123.84 425.49, 125.23 426.30, 126.05 427.58 C 126.88 428.87, 127.40 430.93, 127.64 432.61 Z" fill="#000" filter="url(#mlight)" opacity="0.6"/>
<path d="M 127.64 432.61 C 127.89 434.29, 127.83 436.14, 127.52 437.67 C 127.21 439.21, 126.61 440.85, 125.79 441.80 C 124.97 442.75, 123.72 443.12, 122.59 443.36 C 121.45 443.59, 120.13 443.77, 119.00 443.20 C 117.87 442.63, 116.63 441.31, 115.81 439.94 C 114.99 438.57, 114.33 436.65, 114.10 435.00 C 113.88 433.35, 114.14 431.56, 114.46 430.03 C 114.78 428.51, 115.25 426.83, 116.04 425.85 C 116.83 424.86, 118.08 424.28, 119.19 424.12 C 120.30 423.97, 121.55 424.33, 122.70 424.91 C 123.84 425.49, 125.23 426.30, 126.05 427.58 C 126.88 428.87, 127.40 430.93, 127.64 432.61 Z" fill="#000" filter="url(#mdark)" opacity="0.3"/>
<ellipse cx="188.22" cy="435.46" rx="8.61" ry="8.68" fill="#a8a6b8" opacity="0.5" filter="url(#shadow)"/>
<path d="M 194.66 433.40 C 194.69 434.79, 194.27 436.36, 193.59 437.63 C 192.91 438.89, 191.83 440.29, 190.58 440.98 C 189.33 441.67, 187.56 441.82, 186.10 441.77 C 184.64 441.72, 183.05 441.37, 181.80 440.68 C 180.54 439.99, 179.26 438.85, 178.59 437.64 C 177.92 436.42, 177.76 434.81, 177.77 433.40 C 177.78 431.99, 177.98 430.42, 178.64 429.19 C 179.31 427.97, 180.50 426.77, 181.74 426.03 C 182.99 425.29, 184.69 424.69, 186.10 424.75 C 187.51 424.82, 189.01 425.67, 190.23 426.42 C 191.44 427.18, 192.66 428.12, 193.40 429.28 C 194.14 430.45, 194.63 432.01, 194.66 433.40 Z" fill="url(#tg10)"/>
<path d="M 194.66 433.40 C 194.69 434.79, 194.27 436.36, 193.59 437.63 C 192.91 438.89, 191.83 440.29, 190.58 440.98 C 189.33 441.67, 187.56 441.82, 186.10 441.77 C 184.64 441.72, 183.05 441.37, 181.80 440.68 C 180.54 439.99, 179.26 438.85, 178.59 437.64 C 177.92 436.42, 177.76 434.81, 177.77 433.40 C 177.78 431.99, 177.98 430.42, 178.64 429.19 C 179.31 427.97, 180.50 426.77, 181.74 426.03 C 182.99 425.29, 184.69 424.69, 186.10 424.75 C 187.51 424.82, 189.01 425.67, 190.23 426.42 C 191.44 427.18, 192.66 428.12, 193.40 429.28 C 194.14 430.45, 194.63 432.01, 194.66 433.40 Z" fill="#000" filter="url(#mlight)" opacity="0.5"/>
<path d="M 194.66 433.40 C 194.69 434.79, 194.27 436.36, 193.59 437.63 C 192.91 438.89, 191.83 440.29, 190.58 440.98 C 189.33 441.67, 187.56 441.82, 186.10 441.77 C 184.64 441.72, 183.05 441.37, 181.80 440.68 C 180.54 439.99, 179.26 438.85, 178.59 437.64 C 177.92 436.42, 177.76 434.81, 177.77 433.40 C 177.78 431.99, 177.98 430.42, 178.64 429.19 C 179.31 427.97, 180.50 426.77, 181.74 426.03 C 182.99 425.29, 184.69 424.69, 186.10 424.75 C 187.51 424.82, 189.01 425.67, 190.23 426.42 C 191.44 427.18, 192.66 428.12, 193.40 429.28 C 194.14 430.45, 194.63 432.01, 194.66 433.40 Z" fill="#000" filter="url(#mdark)" opacity="0.4"/>
<ellipse cx="254.61" cy="435.98" rx="4.06" ry="4.03" fill="#a8a6b8" opacity="0.5" filter="url(#shadow)"/>
<path d="M 256.59 433.80 C 256.60 434.61, 256.32 435.58, 255.87 436.23 C 255.41 436.89, 254.59 437.51, 253.85 437.74 C 253.10 437.97, 252.12 437.88, 251.39 437.62 C 250.66 437.35, 249.92 436.78, 249.46 436.14 C 249.00 435.50, 248.64 434.59, 248.63 433.80 C 248.62 433.01, 248.96 432.08, 249.41 431.42 C 249.86 430.76, 250.60 430.09, 251.34 429.83 C 252.08 429.57, 253.10 429.60, 253.85 429.86 C 254.60 430.11, 255.40 430.72, 255.86 431.38 C 256.31 432.03, 256.59 432.99, 256.59 433.80 Z" fill="url(#tg11)"/>
<path d="M 256.59 433.80 C 256.60 434.61, 256.32 435.58, 255.87 436.23 C 255.41 436.89, 254.59 437.51, 253.85 437.74 C 253.10 437.97, 252.12 437.88, 251.39 437.62 C 250.66 437.35, 249.92 436.78, 249.46 436.14 C 249.00 435.50, 248.64 434.59, 248.63 433.80 C 248.62 433.01, 248.96 432.08, 249.41 431.42 C 249.86 430.76, 250.60 430.09, 251.34 429.83 C 252.08 429.57, 253.10 429.60, 253.85 429.86 C 254.60 430.11, 255.40 430.72, 255.86 431.38 C 256.31 432.03, 256.59 432.99, 256.59 433.80 Z" fill="#000" filter="url(#mlight)" opacity="0.5"/>
<path d="M 256.59 433.80 C 256.60 434.61, 256.32 435.58, 255.87 436.23 C 255.41 436.89, 254.59 437.51, 253.85 437.74 C 253.10 437.97, 252.12 437.88, 251.39 437.62 C 250.66 437.35, 249.92 436.78, 249.46 436.14 C 249.00 435.50, 248.64 434.59, 248.63 433.80 C 248.62 433.01, 248.96 432.08, 249.41 431.42 C 249.86 430.76, 250.60 430.09, 251.34 429.83 C 252.08 429.57, 253.10 429.60, 253.85 429.86 C 254.60 430.11, 255.40 430.72, 255.86 431.38 C 256.31 432.03, 256.59 432.99, 256.59 433.80 Z" fill="#000" filter="url(#mdark)" opacity="0.3"/>
<rect x="68.30" y="297.50" width="15.7" height="2" fill="#000"/>
<rect x="134.50" y="297.50" width="15.7" height="2" fill="#000"/>
<rect x="200.90" y="297.50" width="15.7" height="2" fill="#000"/>
<rect x="267.20" y="297.50" width="15.7" height="2" fill="#000"/>
<rect x="68.30" y="377.60" width="15.7" height="2" fill="#000"/>
<rect x="134.50" y="377.60" width="15.7" height="2" fill="#000"/>
<rect x="200.90" y="377.60" width="15.7" height="2" fill="#000"/>
<rect x="267.20" y="377.60" width="15.7" height="2" fill="#000"/>
<rect x="68.30" y="457.60" width="15.7" height="2" fill="#000"/>
<rect x="134.50" y="457.60" width="15.7" height="2" fill="#000"/>
<rect x="200.90" y="457.60" width="15.7" height="2" fill="#000"/>
<rect x="267.20" y="457.60" width="15.7" height="2" fill="#000"/>
<text x="55.95" y="316.70" font-size="12.5" fill="#92d050" text-anchor="middle" font-weight="bold" textLength="6.90" lengthAdjust="spacingAndGlyphs">1</text>
<text x="122.15" y="316.70" font-size="12.5" fill="#00b050" text-anchor="middle" font-weight="bold" textLength="6.90" lengthAdjust="spacingAndGlyphs">2</text>
<text x="188.55" y="316.70" font-size="12.5" fill="#00b050" text-anchor="middle" font-weight="bold" textLength="6.90" lengthAdjust="spacingAndGlyphs">3</text>
<text x="254.85" y="316.70" font-size="12.5" fill="#00b050" text-anchor="middle" font-weight="bold" textLength="6.90" lengthAdjust="spacingAndGlyphs">4</text>
<text x="55.95" y="396.30" font-size="12.5" fill="#1aaef0" text-anchor="middle" font-weight="bold" textLength="6.90" lengthAdjust="spacingAndGlyphs">5</text>
<text x="122.15" y="396.30" font-size="12.5" fill="#1aaef0" text-anchor="middle" font-weight="bold" textLength="6.90" lengthAdjust="spacingAndGlyphs">6</text>
<text x="188.55" y="396.30" font-size="12.5" fill="#1aaef0" text-anchor="middle" font-weight="bold" textLength="6.90" lengthAdjust="spacingAndGlyphs">7</text>
<text x="254.85" y="396.30" font-size="12.5" fill="#1aaef0" text-anchor="middle" font-weight="bold" textLength="6.90" lengthAdjust="spacingAndGlyphs">8</text>
<text x="55.95" y="476.30" font-size="12.5" fill="#0e2060" text-anchor="middle" font-weight="bold" textLength="6.90" lengthAdjust="spacingAndGlyphs">9</text>
<text x="122.15" y="476.30" font-size="12.5" fill="#0e2060" text-anchor="middle" font-weight="bold" textLength="13.80" lengthAdjust="spacingAndGlyphs">10</text>
<text x="188.55" y="476.30" font-size="12.5" fill="#0e2060" text-anchor="middle" font-weight="bold" textLength="13.80" lengthAdjust="spacingAndGlyphs">11</text>
<text x="254.85" y="476.30" font-size="12.5" fill="#0e2060" text-anchor="middle" font-weight="bold" textLength="13.80" lengthAdjust="spacingAndGlyphs">12</text>
<text x="306.60" y="267.70" font-size="11.6" fill="#92d050" text-anchor="start" font-weight="bold" textLength="35.40" lengthAdjust="spacingAndGlyphs">1. PBS</text>
<text x="306.60" y="284.76" font-size="11.6" fill="#00b050" text-anchor="start" font-weight="bold" textLength="98.20" lengthAdjust="spacingAndGlyphs">2. Oxaliplatin (O)</text>
<text x="306.60" y="301.82" font-size="11.6" fill="#00b050" text-anchor="start" font-weight="bold" textLength="67.60" lengthAdjust="spacingAndGlyphs">3. CCL19 (C)</text>
<text x="306.60" y="318.88" font-size="11.6" fill="#00b050" text-anchor="start" font-weight="bold" textLength="91.60" lengthAdjust="spacingAndGlyphs">4. anti-PD-L1 <tspan font-size="9.5">(P)</tspan></text>
<text x="306.60" y="335.94" font-size="11.6" fill="#1aaef0" text-anchor="start" font-weight="bold" textLength="55.70" lengthAdjust="spacingAndGlyphs">5. ZIF8 (Z)</text>
<text x="306.60" y="353.00" font-size="11.6" fill="#1aaef0" text-anchor="start" font-weight="bold" textLength="59.70" lengthAdjust="spacingAndGlyphs">6. O@ZIF8</text>
<text x="306.60" y="370.06" font-size="11.6" fill="#1aaef0" text-anchor="start" font-weight="bold" textLength="57.70" lengthAdjust="spacingAndGlyphs">7. C@ZIF8</text>
<text x="306.60" y="387.12" font-size="11.6" fill="#1aaef0" text-anchor="start" font-weight="bold" textLength="67.30" lengthAdjust="spacingAndGlyphs">8. OC@ZIF8</text>
<text x="306.60" y="404.18" font-size="11.6" fill="#0e2060" text-anchor="start" font-weight="bold" textLength="34.90" lengthAdjust="spacingAndGlyphs">9. ZPP</text>
<text x="306.60" y="421.24" font-size="11.6" fill="#0e2060" text-anchor="start" font-weight="bold" textLength="64.30" lengthAdjust="spacingAndGlyphs">10. O@ZPP</text>
<text x="306.60" y="438.30" font-size="11.6" fill="#0e2060" text-anchor="start" font-weight="bold" textLength="62.40" lengthAdjust="spacingAndGlyphs">11. C@ZPP</text>
<text x="306.60" y="455.36" font-size="11.6" fill="#0e2060" text-anchor="start" font-weight="bold" textLength="71.80" lengthAdjust="spacingAndGlyphs">12. OC@ZPP</text>
<line x1="505.20" y1="248.00" x2="505.20" y2="400.00" stroke="#000" stroke-width="2"/>
<line x1="504.20" y1="399.00" x2="778.00" y2="399.00" stroke="#000" stroke-width="2"/>
<line x1="500.50" y1="399.00" x2="505.20" y2="399.00" stroke="#000" stroke-width="1.6"/>
<text x="499.50" y="402.40" font-size="9.6" fill="#000" text-anchor="end" font-weight="bold" textLength="4.80" lengthAdjust="spacingAndGlyphs">0</text>
<line x1="500.50" y1="361.40" x2="505.20" y2="361.40" stroke="#000" stroke-width="1.6"/>
<text x="499.50" y="364.80" font-size="9.6" fill="#000" text-anchor="end" font-weight="bold" textLength="4.80" lengthAdjust="spacingAndGlyphs">1</text>
<line x1="500.50" y1="323.80" x2="505.20" y2="323.80" stroke="#000" stroke-width="1.6"/>
<text x="499.50" y="327.20" font-size="9.6" fill="#000" text-anchor="end" font-weight="bold" textLength="4.80" lengthAdjust="spacingAndGlyphs">2</text>
<line x1="500.50" y1="286.20" x2="505.20" y2="286.20" stroke="#000" stroke-width="1.6"/>
<text x="499.50" y="289.60" font-size="9.6" fill="#000" text-anchor="end" font-weight="bold" textLength="4.80" lengthAdjust="spacingAndGlyphs">3</text>
<line x1="500.50" y1="248.60" x2="505.20" y2="248.60" stroke="#000" stroke-width="1.6"/>
<text x="499.50" y="252.00" font-size="9.6" fill="#000" text-anchor="end" font-weight="bold" textLength="4.80" lengthAdjust="spacingAndGlyphs">4</text>
<line x1="520.00" y1="399.00" x2="520.00" y2="403.30" stroke="#000" stroke-width="1.6"/>
<line x1="542.07" y1="399.00" x2="542.07" y2="403.30" stroke="#000" stroke-width="1.6"/>
<line x1="564.14" y1="399.00" x2="564.14" y2="403.30" stroke="#000" stroke-width="1.6"/>
<line x1="586.21" y1="399.00" x2="586.21" y2="403.30" stroke="#000" stroke-width="1.6"/>
<line x1="608.28" y1="399.00" x2="608.28" y2="403.30" stroke="#000" stroke-width="1.6"/>
<line x1="630.35" y1="399.00" x2="630.35" y2="403.30" stroke="#000" stroke-width="1.6"/>
<line x1="652.42" y1="399.00" x2="652.42" y2="403.30" stroke="#000" stroke-width="1.6"/>
<line x1="674.49" y1="399.00" x2="674.49" y2="403.30" stroke="#000" stroke-width="1.6"/>
<line x1="696.56" y1="399.00" x2="696.56" y2="403.30" stroke="#000" stroke-width="1.6"/>
<line x1="718.63" y1="399.00" x2="718.63" y2="403.30" stroke="#000" stroke-width="1.6"/>
<line x1="740.70" y1="399.00" x2="740.70" y2="403.30" stroke="#000" stroke-width="1.6"/>
<line x1="762.77" y1="399.00" x2="762.77" y2="403.30" stroke="#000" stroke-width="1.6"/>
<text x="479.20" y="322.00" font-size="11" fill="#000" text-anchor="middle" font-weight="bold" textLength="79.00" lengthAdjust="spacingAndGlyphs" transform="rotate(-90 479.20 322.00)">Tumor mass (g)</text>
<text x="521.00" y="412.50" font-size="10.0" fill="#000" text-anchor="end" font-weight="bold" textLength="16.13" lengthAdjust="spacingAndGlyphs" transform="rotate(-45 521.00 412.50)">PBS</text>
<text x="543.07" y="412.50" font-size="10.0" fill="#000" text-anchor="end" font-weight="bold" textLength="62.36" lengthAdjust="spacingAndGlyphs" transform="rotate(-45 543.07 412.50)">Oxaliplatin (O)</text>
<text x="565.14" y="412.50" font-size="10.0" fill="#000" text-anchor="end" font-weight="bold" textLength="39.90" lengthAdjust="spacingAndGlyphs" transform="rotate(-45 565.14 412.50)">CCL19 (C)</text>
<text x="587.21" y="412.50" font-size="10.0" fill="#000" text-anchor="end" font-weight="bold" textLength="58.81" lengthAdjust="spacingAndGlyphs" transform="rotate(-45 587.21 412.50)">anti-PD-L1 (P)</text>
<text x="609.28" y="412.50" font-size="10.0" fill="#000" text-anchor="end" font-weight="bold" textLength="31.30" lengthAdjust="spacingAndGlyphs" transform="rotate(-45 609.28 412.50)">ZIF8 (Z)</text>
<text x="631.35" y="412.50" font-size="10.0" fill="#000" text-anchor="end" font-weight="bold" textLength="33.77" lengthAdjust="spacingAndGlyphs" transform="rotate(-45 631.35 412.50)">O@ZIF8</text>
<text x="653.42" y="412.50" font-size="10.0" fill="#000" text-anchor="end" font-weight="bold" textLength="32.26" lengthAdjust="spacingAndGlyphs" transform="rotate(-45 653.42 412.50)">C@ZIF8</text>
<text x="675.49" y="412.50" font-size="10.0" fill="#000" text-anchor="end" font-weight="bold" textLength="39.22" lengthAdjust="spacingAndGlyphs" transform="rotate(-45 675.49 412.50)">OC@ZIF8</text>
<text x="697.56" y="412.50" font-size="10.0" fill="#000" text-anchor="end" font-weight="bold" textLength="15.88" lengthAdjust="spacingAndGlyphs" transform="rotate(-45 697.56 412.50)">ZPP</text>
<text x="719.63" y="412.50" font-size="10.0" fill="#000" text-anchor="end" font-weight="bold" textLength="32.03" lengthAdjust="spacingAndGlyphs" transform="rotate(-45 719.63 412.50)">O@ZPP</text>
<text x="741.70" y="412.50" font-size="10.0" fill="#000" text-anchor="end" font-weight="bold" textLength="30.52" lengthAdjust="spacingAndGlyphs" transform="rotate(-45 741.70 412.50)">C@ZPP</text>
<text x="763.77" y="412.50" font-size="10.0" fill="#000" text-anchor="end" font-weight="bold" textLength="37.48" lengthAdjust="spacingAndGlyphs" transform="rotate(-45 763.77 412.50)">OC@ZPP</text>
<rect x="514.30" y="265.77" width="11.4" height="43.87" fill="none" stroke="#8ce628" stroke-width="2.1"/>
<line x1="513.50" y1="289.96" x2="526.50" y2="289.96" stroke="#8ce628" stroke-width="2.0"/>
<rect x="536.37" y="354.88" width="11.4" height="11.91" fill="none" stroke="#16c016" stroke-width="2.1"/>
<line x1="535.57" y1="355.01" x2="548.57" y2="355.01" stroke="#16c016" stroke-width="2.0"/>
<rect x="558.44" y="304.50" width="11.4" height="17.93" fill="none" stroke="#16c016" stroke-width="2.1"/>
<rect x="580.51" y="345.48" width="11.4" height="22.82" fill="none" stroke="#16c016" stroke-width="2.1"/>
<line x1="579.71" y1="356.89" x2="592.71" y2="356.89" stroke="#16c016" stroke-width="2.0"/>
<rect x="602.58" y="284.57" width="11.4" height="45.75" fill="none" stroke="#1e3cff" stroke-width="2.1"/>
<line x1="601.78" y1="314.02" x2="614.78" y2="314.02" stroke="#1e3cff" stroke-width="2.0"/>
<rect x="624.40" y="373.40" width="11.80" height="9.80" fill="none" stroke="#1e3cff" stroke-width="2.1"/>
<rect x="645.10" y="381.80" width="14.50" height="4.00" fill="#1a4af5"/>
<rect x="667.30" y="378.50" width="14.40" height="8.10" fill="#0e1c9c"/>
<line x1="670.10" y1="381.80" x2="678.90" y2="381.80" stroke="#fff" stroke-width="1.0"/>
<rect x="689.00" y="382.80" width="14.90" height="2.80" fill="#0e1c9c"/>
<rect x="711.00" y="386.60" width="15.00" height="5.80" fill="#0e1c9c"/>
<line x1="713.80" y1="389.40" x2="723.20" y2="389.40" stroke="#fff" stroke-width="1.0"/>
<rect x="733.20" y="386.20" width="14.80" height="6.60" fill="#0e1c9c"/>
<line x1="736.00" y1="388.40" x2="745.20" y2="388.40" stroke="#fff" stroke-width="1.0"/>
<rect x="755.20" y="395.00" width="14.80" height="3.40" fill="#0e1c9c"/>
<text x="542.30" y="351.50" font-size="10" fill="#000" text-anchor="middle" font-weight="bold" textLength="3.80" lengthAdjust="spacingAndGlyphs">*</text>
<text x="586.30" y="342.50" font-size="10" fill="#000" text-anchor="middle" font-weight="bold" textLength="3.80" lengthAdjust="spacingAndGlyphs">*</text>
<text x="630.30" y="371.00" font-size="10" fill="#000" text-anchor="middle" font-weight="bold" textLength="7.60" lengthAdjust="spacingAndGlyphs">**</text>
<text x="652.40" y="381.40" font-size="10" fill="#000" text-anchor="middle" font-weight="bold" textLength="11.40" lengthAdjust="spacingAndGlyphs">***</text>
<text x="674.50" y="377.40" font-size="10" fill="#000" text-anchor="middle" font-weight="bold" textLength="7.60" lengthAdjust="spacingAndGlyphs">**</text>
<text x="696.50" y="383.00" font-size="10" fill="#000" text-anchor="middle" font-weight="bold" textLength="11.40" lengthAdjust="spacingAndGlyphs">***</text>
<text x="718.50" y="387.20" font-size="10" fill="#000" text-anchor="middle" font-weight="bold" textLength="15.20" lengthAdjust="spacingAndGlyphs">****</text>
<text x="740.60" y="385.70" font-size="10" fill="#000" text-anchor="middle" font-weight="bold" textLength="15.20" lengthAdjust="spacingAndGlyphs">****</text>
<text x="762.60" y="396.50" font-size="10" fill="#000" text-anchor="middle" font-weight="bold" textLength="15.20" lengthAdjust="spacingAndGlyphs">****</text>
<line x1="49.80" y1="527.50" x2="49.80" y2="718.00" stroke="#000" stroke-width="2"/>
<line x1="48.80" y1="717.00" x2="286.70" y2="717.00" stroke="#000" stroke-width="2"/>
<line x1="45.30" y1="717.00" x2="49.80" y2="717.00" stroke="#000" stroke-width="1.6"/>
<text x="44.00" y="720.50" font-size="10" fill="#000" text-anchor="end" font-weight="bold" textLength="5.90" lengthAdjust="spacingAndGlyphs">0</text>
<line x1="45.30" y1="654.10" x2="49.80" y2="654.10" stroke="#000" stroke-width="1.6"/>
<text x="44.00" y="657.60" font-size="10" fill="#000" text-anchor="end" font-weight="bold" textLength="11.80" lengthAdjust="spacingAndGlyphs">10</text>
<line x1="45.30" y1="591.20" x2="49.80" y2="591.20" stroke="#000" stroke-width="1.6"/>
<text x="44.00" y="594.70" font-size="10" fill="#000" text-anchor="end" font-weight="bold" textLength="11.80" lengthAdjust="spacingAndGlyphs">20</text>
<line x1="45.30" y1="528.30" x2="49.80" y2="528.30" stroke="#000" stroke-width="1.6"/>
<text x="44.00" y="531.80" font-size="10" fill="#000" text-anchor="end" font-weight="bold" textLength="11.80" lengthAdjust="spacingAndGlyphs">30</text>
<line x1="73.60" y1="717.00" x2="73.60" y2="721.20" stroke="#000" stroke-width="1.6"/>
<text x="73.60" y="733.60" font-size="10" fill="#000" text-anchor="middle" font-weight="bold" textLength="5.90" lengthAdjust="spacingAndGlyphs">0</text>
<line x1="120.87" y1="717.00" x2="120.87" y2="721.20" stroke="#000" stroke-width="1.6"/>
<text x="120.87" y="733.60" font-size="10" fill="#000" text-anchor="middle" font-weight="bold" textLength="5.90" lengthAdjust="spacingAndGlyphs">3</text>
<line x1="168.14" y1="717.00" x2="168.14" y2="721.20" stroke="#000" stroke-width="1.6"/>
<text x="168.14" y="733.60" font-size="10" fill="#000" text-anchor="middle" font-weight="bold" textLength="5.90" lengthAdjust="spacingAndGlyphs">7</text>
<line x1="215.41" y1="717.00" x2="215.41" y2="721.20" stroke="#000" stroke-width="1.6"/>
<text x="215.41" y="733.60" font-size="10" fill="#000" text-anchor="middle" font-weight="bold" textLength="11.80" lengthAdjust="spacingAndGlyphs">10</text>
<line x1="262.68" y1="717.00" x2="262.68" y2="721.20" stroke="#000" stroke-width="1.6"/>
<text x="262.68" y="733.60" font-size="10" fill="#000" text-anchor="middle" font-weight="bold" textLength="11.80" lengthAdjust="spacingAndGlyphs">14</text>
<text x="167.00" y="754.60" font-size="11" fill="#000" text-anchor="middle" font-weight="bold" textLength="42.00" lengthAdjust="spacingAndGlyphs">Time (d)</text>
<text x="25.60" y="621.30" font-size="10.5" fill="#000" text-anchor="middle" font-weight="bold" textLength="73.70" lengthAdjust="spacingAndGlyphs" transform="rotate(-90 25.60 621.30)">Body weight (g)</text>
<polyline points="73.60,600.01 120.87,601.89 168.14,601.26 215.41,595.60 262.68,599.38" fill="none" stroke="#0c1688" stroke-width="1.4"/>
<polyline points="73.60,594.35 120.87,595.60 168.14,589.94 215.41,584.28 262.68,594.97" fill="none" stroke="#0c1688" stroke-width="1.4"/>
<polyline points="73.60,596.23 120.87,592.46 168.14,588.06 215.41,586.17 262.68,591.83" fill="none" stroke="#0c1688" stroke-width="1.4"/>
<polyline points="73.60,591.83 120.87,597.49 168.14,589.94 215.41,597.49 262.68,596.23" fill="none" stroke="#1e88f0" stroke-width="1.4"/>
<polyline points="73.60,588.06 120.87,588.06 168.14,586.17 215.41,594.35 262.68,594.35" fill="none" stroke="#1e88f0" stroke-width="1.4"/>
<polyline points="73.60,601.89 120.87,593.72 168.14,591.20 215.41,593.09 262.68,597.49" fill="none" stroke="#1e88f0" stroke-width="1.4"/>
<polyline points="73.60,597.49 120.87,594.97 168.14,592.46 215.41,591.20 262.68,584.28" fill="none" stroke="#ff1a1a" stroke-width="1.4"/>
<polyline points="73.60,594.35 120.87,597.49 168.14,594.35 215.41,595.60 262.68,592.46" fill="none" stroke="#88ee22" stroke-width="1.4"/>
<polyline points="73.60,596.23 120.87,600.01 168.14,594.97 215.41,593.72 262.68,592.46" fill="none" stroke="#14b814" stroke-width="1.4"/>
<polyline points="73.60,591.20 120.87,589.31 168.14,593.72 215.41,591.20 262.68,588.06" fill="none" stroke="#14b814" stroke-width="1.4"/>
<polyline points="73.60,592.46 120.87,594.97 168.14,592.46 215.41,595.60 262.68,589.94" fill="none" stroke="#14b814" stroke-width="1.4"/>
<polyline points="73.60,597.49 120.87,606.30 168.14,594.35 215.41,597.49 262.68,594.35" fill="none" stroke="#14b814" stroke-width="1.4"/>
<line x1="73.60" y1="602.99" x2="73.60" y2="597.03" stroke="#0c1688" stroke-width="1.6"/>
<line x1="71.00" y1="602.99" x2="76.20" y2="602.99" stroke="#0c1688" stroke-width="1.6"/>
<line x1="71.00" y1="597.03" x2="76.20" y2="597.03" stroke="#0c1688" stroke-width="1.6"/>
<circle cx="73.60" cy="600.01" r="2.70" fill="#0c1688"/>
<line x1="120.87" y1="603.52" x2="120.87" y2="600.27" stroke="#0c1688" stroke-width="1.6"/>
<line x1="118.27" y1="603.52" x2="123.47" y2="603.52" stroke="#0c1688" stroke-width="1.6"/>
<line x1="118.27" y1="600.27" x2="123.47" y2="600.27" stroke="#0c1688" stroke-width="1.6"/>
<circle cx="120.87" cy="601.89" r="2.70" fill="#0c1688"/>
<line x1="168.14" y1="603.44" x2="168.14" y2="599.09" stroke="#0c1688" stroke-width="1.6"/>
<line x1="165.54" y1="603.44" x2="170.74" y2="603.44" stroke="#0c1688" stroke-width="1.6"/>
<line x1="165.54" y1="599.09" x2="170.74" y2="599.09" stroke="#0c1688" stroke-width="1.6"/>
<circle cx="168.14" cy="601.26" r="2.70" fill="#0c1688"/>
<line x1="215.41" y1="597.67" x2="215.41" y2="593.54" stroke="#0c1688" stroke-width="1.6"/>
<line x1="212.81" y1="597.67" x2="218.01" y2="597.67" stroke="#0c1688" stroke-width="1.6"/>
<line x1="212.81" y1="593.54" x2="218.01" y2="593.54" stroke="#0c1688" stroke-width="1.6"/>
<circle cx="215.41" cy="595.60" r="2.70" fill="#0c1688"/>
<line x1="262.68" y1="602.57" x2="262.68" y2="596.18" stroke="#0c1688" stroke-width="1.6"/>
<line x1="260.08" y1="602.57" x2="265.28" y2="602.57" stroke="#0c1688" stroke-width="1.6"/>
<line x1="260.08" y1="596.18" x2="265.28" y2="596.18" stroke="#0c1688" stroke-width="1.6"/>
<circle cx="262.68" cy="599.38" r="2.70" fill="#0c1688"/>
<line x1="73.60" y1="597.41" x2="73.60" y2="591.28" stroke="#0c1688" stroke-width="1.6"/>
<line x1="71.00" y1="597.41" x2="76.20" y2="597.41" stroke="#0c1688" stroke-width="1.6"/>
<line x1="71.00" y1="591.28" x2="76.20" y2="591.28" stroke="#0c1688" stroke-width="1.6"/>
<rect x="71.10" y="591.85" width="5.00" height="5.00" fill="#0c1688"/>
<line x1="120.87" y1="599.14" x2="120.87" y2="592.07" stroke="#0c1688" stroke-width="1.6"/>
<line x1="118.27" y1="599.14" x2="123.47" y2="599.14" stroke="#0c1688" stroke-width="1.6"/>
<line x1="118.27" y1="592.07" x2="123.47" y2="592.07" stroke="#0c1688" stroke-width="1.6"/>
<rect x="118.37" y="593.10" width="5.00" height="5.00" fill="#0c1688"/>
<line x1="168.14" y1="591.71" x2="168.14" y2="588.18" stroke="#0c1688" stroke-width="1.6"/>
<line x1="165.54" y1="591.71" x2="170.74" y2="591.71" stroke="#0c1688" stroke-width="1.6"/>
<line x1="165.54" y1="588.18" x2="170.74" y2="588.18" stroke="#0c1688" stroke-width="1.6"/>
<rect x="165.64" y="587.44" width="5.00" height="5.00" fill="#0c1688"/>
<line x1="215.41" y1="586.78" x2="215.41" y2="581.78" stroke="#0c1688" stroke-width="1.6"/>
<line x1="212.81" y1="586.78" x2="218.01" y2="586.78" stroke="#0c1688" stroke-width="1.6"/>
<line x1="212.81" y1="581.78" x2="218.01" y2="581.78" stroke="#0c1688" stroke-width="1.6"/>
<rect x="212.91" y="581.78" width="5.00" height="5.00" fill="#0c1688"/>
<line x1="262.68" y1="596.61" x2="262.68" y2="593.34" stroke="#0c1688" stroke-width="1.6"/>
<line x1="260.08" y1="596.61" x2="265.28" y2="596.61" stroke="#0c1688" stroke-width="1.6"/>
<line x1="260.08" y1="593.34" x2="265.28" y2="593.34" stroke="#0c1688" stroke-width="1.6"/>
<rect x="260.18" y="592.47" width="5.00" height="5.00" fill="#0c1688"/>
<line x1="73.60" y1="598.29" x2="73.60" y2="594.18" stroke="#0c1688" stroke-width="1.6"/>
<line x1="71.00" y1="598.29" x2="76.20" y2="598.29" stroke="#0c1688" stroke-width="1.6"/>
<line x1="71.00" y1="594.18" x2="76.20" y2="594.18" stroke="#0c1688" stroke-width="1.6"/>
<path d="M 73.60 593.23 L 76.60 598.63 L 70.60 598.63 Z" fill="#0c1688"/>
<line x1="120.87" y1="595.14" x2="120.87" y2="589.77" stroke="#0c1688" stroke-width="1.6"/>
<line x1="118.27" y1="595.14" x2="123.47" y2="595.14" stroke="#0c1688" stroke-width="1.6"/>
<line x1="118.27" y1="589.77" x2="123.47" y2="589.77" stroke="#0c1688" stroke-width="1.6"/>
<path d="M 120.87 589.46 L 123.87 594.86 L 117.87 594.86 Z" fill="#0c1688"/>
<line x1="168.14" y1="589.69" x2="168.14" y2="586.42" stroke="#0c1688" stroke-width="1.6"/>
<line x1="165.54" y1="589.69" x2="170.74" y2="589.69" stroke="#0c1688" stroke-width="1.6"/>
<line x1="165.54" y1="586.42" x2="170.74" y2="586.42" stroke="#0c1688" stroke-width="1.6"/>
<path d="M 168.14 585.06 L 171.14 590.46 L 165.14 590.46 Z" fill="#0c1688"/>
<line x1="215.41" y1="588.18" x2="215.41" y2="584.16" stroke="#0c1688" stroke-width="1.6"/>
<line x1="212.81" y1="588.18" x2="218.01" y2="588.18" stroke="#0c1688" stroke-width="1.6"/>
<line x1="212.81" y1="584.16" x2="218.01" y2="584.16" stroke="#0c1688" stroke-width="1.6"/>
<path d="M 215.41 583.17 L 218.41 588.57 L 212.41 588.57 Z" fill="#0c1688"/>
<line x1="262.68" y1="594.83" x2="262.68" y2="588.83" stroke="#0c1688" stroke-width="1.6"/>
<line x1="260.08" y1="594.83" x2="265.28" y2="594.83" stroke="#0c1688" stroke-width="1.6"/>
<line x1="260.08" y1="588.83" x2="265.28" y2="588.83" stroke="#0c1688" stroke-width="1.6"/>
<path d="M 262.68 588.83 L 265.68 594.23 L 259.68 594.23 Z" fill="#0c1688"/>
<line x1="73.60" y1="594.60" x2="73.60" y2="589.06" stroke="#1e88f0" stroke-width="1.6"/>
<line x1="71.00" y1="594.60" x2="76.20" y2="594.60" stroke="#1e88f0" stroke-width="1.6"/>
<line x1="71.00" y1="589.06" x2="76.20" y2="589.06" stroke="#1e88f0" stroke-width="1.6"/>
<circle cx="73.60" cy="591.83" r="2.70" fill="#1e88f0"/>
<line x1="120.87" y1="599.55" x2="120.87" y2="595.43" stroke="#1e88f0" stroke-width="1.6"/>
<line x1="118.27" y1="599.55" x2="123.47" y2="599.55" stroke="#1e88f0" stroke-width="1.6"/>
<line x1="118.27" y1="595.43" x2="123.47" y2="595.43" stroke="#1e88f0" stroke-width="1.6"/>
<circle cx="120.87" cy="597.49" r="2.70" fill="#1e88f0"/>
<line x1="168.14" y1="592.81" x2="168.14" y2="587.07" stroke="#1e88f0" stroke-width="1.6"/>
<line x1="165.54" y1="592.81" x2="170.74" y2="592.81" stroke="#1e88f0" stroke-width="1.6"/>
<line x1="165.54" y1="587.07" x2="170.74" y2="587.07" stroke="#1e88f0" stroke-width="1.6"/>
<circle cx="168.14" cy="589.94" r="2.70" fill="#1e88f0"/>
<line x1="215.41" y1="600.84" x2="215.41" y2="594.14" stroke="#1e88f0" stroke-width="1.6"/>
<line x1="212.81" y1="600.84" x2="218.01" y2="600.84" stroke="#1e88f0" stroke-width="1.6"/>
<line x1="212.81" y1="594.14" x2="218.01" y2="594.14" stroke="#1e88f0" stroke-width="1.6"/>
<circle cx="215.41" cy="597.49" r="2.70" fill="#1e88f0"/>
<line x1="262.68" y1="597.82" x2="262.68" y2="594.65" stroke="#1e88f0" stroke-width="1.6"/>
<line x1="260.08" y1="597.82" x2="265.28" y2="597.82" stroke="#1e88f0" stroke-width="1.6"/>
<line x1="260.08" y1="594.65" x2="265.28" y2="594.65" stroke="#1e88f0" stroke-width="1.6"/>
<circle cx="262.68" cy="596.23" r="2.70" fill="#1e88f0"/>
<line x1="73.60" y1="591.40" x2="73.60" y2="584.71" stroke="#1e88f0" stroke-width="1.6"/>
<line x1="71.00" y1="591.40" x2="76.20" y2="591.40" stroke="#1e88f0" stroke-width="1.6"/>
<line x1="71.00" y1="584.71" x2="76.20" y2="584.71" stroke="#1e88f0" stroke-width="1.6"/>
<rect x="71.10" y="585.56" width="5.00" height="5.00" fill="#1e88f0"/>
<line x1="120.87" y1="591.16" x2="120.87" y2="584.95" stroke="#1e88f0" stroke-width="1.6"/>
<line x1="118.27" y1="591.16" x2="123.47" y2="591.16" stroke="#1e88f0" stroke-width="1.6"/>
<line x1="118.27" y1="584.95" x2="123.47" y2="584.95" stroke="#1e88f0" stroke-width="1.6"/>
<rect x="118.37" y="585.56" width="5.00" height="5.00" fill="#1e88f0"/>
<line x1="168.14" y1="588.49" x2="168.14" y2="583.85" stroke="#1e88f0" stroke-width="1.6"/>
<line x1="165.54" y1="588.49" x2="170.74" y2="588.49" stroke="#1e88f0" stroke-width="1.6"/>
<line x1="165.54" y1="583.85" x2="170.74" y2="583.85" stroke="#1e88f0" stroke-width="1.6"/>
<rect x="165.64" y="583.67" width="5.00" height="5.00" fill="#1e88f0"/>
<line x1="215.41" y1="596.26" x2="215.41" y2="592.43" stroke="#1e88f0" stroke-width="1.6"/>
<line x1="212.81" y1="596.26" x2="218.01" y2="596.26" stroke="#1e88f0" stroke-width="1.6"/>
<line x1="212.81" y1="592.43" x2="218.01" y2="592.43" stroke="#1e88f0" stroke-width="1.6"/>
<rect x="212.91" y="591.85" width="5.00" height="5.00" fill="#1e88f0"/>
<line x1="262.68" y1="598.02" x2="262.68" y2="590.67" stroke="#1e88f0" stroke-width="1.6"/>
<line x1="260.08" y1="598.02" x2="265.28" y2="598.02" stroke="#1e88f0" stroke-width="1.6"/>
<line x1="260.08" y1="590.67" x2="265.28" y2="590.67" stroke="#1e88f0" stroke-width="1.6"/>
<rect x="260.18" y="591.85" width="5.00" height="5.00" fill="#1e88f0"/>
<line x1="73.60" y1="604.21" x2="73.60" y2="599.58" stroke="#1e88f0" stroke-width="1.6"/>
<line x1="71.00" y1="604.21" x2="76.20" y2="604.21" stroke="#1e88f0" stroke-width="1.6"/>
<line x1="71.00" y1="599.58" x2="76.20" y2="599.58" stroke="#1e88f0" stroke-width="1.6"/>
<path d="M 73.60 598.89 L 76.60 604.29 L 70.60 604.29 Z" fill="#1e88f0"/>
<line x1="120.87" y1="595.49" x2="120.87" y2="591.94" stroke="#1e88f0" stroke-width="1.6"/>
<line x1="118.27" y1="595.49" x2="123.47" y2="595.49" stroke="#1e88f0" stroke-width="1.6"/>
<line x1="118.27" y1="591.94" x2="123.47" y2="591.94" stroke="#1e88f0" stroke-width="1.6"/>
<path d="M 120.87 590.72 L 123.87 596.12 L 117.87 596.12 Z" fill="#1e88f0"/>
<line x1="168.14" y1="592.99" x2="168.14" y2="589.41" stroke="#1e88f0" stroke-width="1.6"/>
<line x1="165.54" y1="592.99" x2="170.74" y2="592.99" stroke="#1e88f0" stroke-width="1.6"/>
<line x1="165.54" y1="589.41" x2="170.74" y2="589.41" stroke="#1e88f0" stroke-width="1.6"/>
<path d="M 168.14 588.20 L 171.14 593.60 L 165.14 593.60 Z" fill="#1e88f0"/>
<line x1="215.41" y1="596.53" x2="215.41" y2="589.65" stroke="#1e88f0" stroke-width="1.6"/>
<line x1="212.81" y1="596.53" x2="218.01" y2="596.53" stroke="#1e88f0" stroke-width="1.6"/>
<line x1="212.81" y1="589.65" x2="218.01" y2="589.65" stroke="#1e88f0" stroke-width="1.6"/>
<path d="M 215.41 590.09 L 218.41 595.49 L 212.41 595.49 Z" fill="#1e88f0"/>
<line x1="262.68" y1="600.39" x2="262.68" y2="594.59" stroke="#1e88f0" stroke-width="1.6"/>
<line x1="260.08" y1="600.39" x2="265.28" y2="600.39" stroke="#1e88f0" stroke-width="1.6"/>
<line x1="260.08" y1="594.59" x2="265.28" y2="594.59" stroke="#1e88f0" stroke-width="1.6"/>
<path d="M 262.68 594.49 L 265.68 599.89 L 259.68 599.89 Z" fill="#1e88f0"/>
<line x1="73.60" y1="600.84" x2="73.60" y2="594.14" stroke="#ff1a1a" stroke-width="1.6"/>
<line x1="71.00" y1="600.84" x2="76.20" y2="600.84" stroke="#ff1a1a" stroke-width="1.6"/>
<line x1="71.00" y1="594.14" x2="76.20" y2="594.14" stroke="#ff1a1a" stroke-width="1.6"/>
<circle cx="73.60" cy="597.49" r="2.70" fill="#ff1a1a"/>
<line x1="120.87" y1="598.15" x2="120.87" y2="591.79" stroke="#ff1a1a" stroke-width="1.6"/>
<line x1="118.27" y1="598.15" x2="123.47" y2="598.15" stroke="#ff1a1a" stroke-width="1.6"/>
<line x1="118.27" y1="591.79" x2="123.47" y2="591.79" stroke="#ff1a1a" stroke-width="1.6"/>
<circle cx="120.87" cy="594.97" r="2.70" fill="#ff1a1a"/>
<line x1="168.14" y1="595.21" x2="168.14" y2="589.70" stroke="#ff1a1a" stroke-width="1.6"/>
<line x1="165.54" y1="595.21" x2="170.74" y2="595.21" stroke="#ff1a1a" stroke-width="1.6"/>
<line x1="165.54" y1="589.70" x2="170.74" y2="589.70" stroke="#ff1a1a" stroke-width="1.6"/>
<circle cx="168.14" cy="592.46" r="2.70" fill="#ff1a1a"/>
<line x1="215.41" y1="594.91" x2="215.41" y2="587.49" stroke="#ff1a1a" stroke-width="1.6"/>
<line x1="212.81" y1="594.91" x2="218.01" y2="594.91" stroke="#ff1a1a" stroke-width="1.6"/>
<line x1="212.81" y1="587.49" x2="218.01" y2="587.49" stroke="#ff1a1a" stroke-width="1.6"/>
<circle cx="215.41" cy="591.20" r="2.70" fill="#ff1a1a"/>
<line x1="262.68" y1="586.69" x2="262.68" y2="581.88" stroke="#ff1a1a" stroke-width="1.6"/>
<line x1="260.08" y1="586.69" x2="265.28" y2="586.69" stroke="#ff1a1a" stroke-width="1.6"/>
<line x1="260.08" y1="581.88" x2="265.28" y2="581.88" stroke="#ff1a1a" stroke-width="1.6"/>
<circle cx="262.68" cy="584.28" r="2.70" fill="#ff1a1a"/>
<line x1="73.60" y1="597.13" x2="73.60" y2="591.56" stroke="#88ee22" stroke-width="1.6"/>
<line x1="71.00" y1="597.13" x2="76.20" y2="597.13" stroke="#88ee22" stroke-width="1.6"/>
<line x1="71.00" y1="591.56" x2="76.20" y2="591.56" stroke="#88ee22" stroke-width="1.6"/>
<circle cx="73.60" cy="594.35" r="2.70" fill="#88ee22"/>
<line x1="120.87" y1="600.89" x2="120.87" y2="594.09" stroke="#88ee22" stroke-width="1.6"/>
<line x1="118.27" y1="600.89" x2="123.47" y2="600.89" stroke="#88ee22" stroke-width="1.6"/>
<line x1="118.27" y1="594.09" x2="123.47" y2="594.09" stroke="#88ee22" stroke-width="1.6"/>
<circle cx="120.87" cy="597.49" r="2.70" fill="#88ee22"/>
<line x1="168.14" y1="597.28" x2="168.14" y2="591.41" stroke="#88ee22" stroke-width="1.6"/>
<line x1="165.54" y1="597.28" x2="170.74" y2="597.28" stroke="#88ee22" stroke-width="1.6"/>
<line x1="165.54" y1="591.41" x2="170.74" y2="591.41" stroke="#88ee22" stroke-width="1.6"/>
<circle cx="168.14" cy="594.35" r="2.70" fill="#88ee22"/>
<line x1="215.41" y1="599.07" x2="215.41" y2="592.13" stroke="#88ee22" stroke-width="1.6"/>
<line x1="212.81" y1="599.07" x2="218.01" y2="599.07" stroke="#88ee22" stroke-width="1.6"/>
<line x1="212.81" y1="592.13" x2="218.01" y2="592.13" stroke="#88ee22" stroke-width="1.6"/>
<circle cx="215.41" cy="595.60" r="2.70" fill="#88ee22"/>
<line x1="262.68" y1="595.30" x2="262.68" y2="589.61" stroke="#88ee22" stroke-width="1.6"/>
<line x1="260.08" y1="595.30" x2="265.28" y2="595.30" stroke="#88ee22" stroke-width="1.6"/>
<line x1="260.08" y1="589.61" x2="265.28" y2="589.61" stroke="#88ee22" stroke-width="1.6"/>
<circle cx="262.68" cy="592.46" r="2.70" fill="#88ee22"/>
<line x1="73.60" y1="599.36" x2="73.60" y2="593.11" stroke="#14b814" stroke-width="1.6"/>
<line x1="71.00" y1="599.36" x2="76.20" y2="599.36" stroke="#14b814" stroke-width="1.6"/>
<line x1="71.00" y1="593.11" x2="76.20" y2="593.11" stroke="#14b814" stroke-width="1.6"/>
<path d="M 73.60 593.23 L 76.00 596.23 L 73.60 599.23 L 71.20 596.23 Z" fill="#14b814"/>
<line x1="120.87" y1="601.68" x2="120.87" y2="598.33" stroke="#14b814" stroke-width="1.6"/>
<line x1="118.27" y1="601.68" x2="123.47" y2="601.68" stroke="#14b814" stroke-width="1.6"/>
<line x1="118.27" y1="598.33" x2="123.47" y2="598.33" stroke="#14b814" stroke-width="1.6"/>
<path d="M 120.87 597.01 L 123.27 600.01 L 120.87 603.01 L 118.47 600.01 Z" fill="#14b814"/>
<line x1="168.14" y1="597.05" x2="168.14" y2="592.90" stroke="#14b814" stroke-width="1.6"/>
<line x1="165.54" y1="597.05" x2="170.74" y2="597.05" stroke="#14b814" stroke-width="1.6"/>
<line x1="165.54" y1="592.90" x2="170.74" y2="592.90" stroke="#14b814" stroke-width="1.6"/>
<path d="M 168.14 591.97 L 170.54 594.97 L 168.14 597.97 L 165.74 594.97 Z" fill="#14b814"/>
<line x1="215.41" y1="595.93" x2="215.41" y2="591.51" stroke="#14b814" stroke-width="1.6"/>
<line x1="212.81" y1="595.93" x2="218.01" y2="595.93" stroke="#14b814" stroke-width="1.6"/>
<line x1="212.81" y1="591.51" x2="218.01" y2="591.51" stroke="#14b814" stroke-width="1.6"/>
<path d="M 215.41 590.72 L 217.81 593.72 L 215.41 596.72 L 213.01 593.72 Z" fill="#14b814"/>
<line x1="262.68" y1="594.21" x2="262.68" y2="590.71" stroke="#14b814" stroke-width="1.6"/>
<line x1="260.08" y1="594.21" x2="265.28" y2="594.21" stroke="#14b814" stroke-width="1.6"/>
<line x1="260.08" y1="590.71" x2="265.28" y2="590.71" stroke="#14b814" stroke-width="1.6"/>
<path d="M 262.68 589.46 L 265.08 592.46 L 262.68 595.46 L 260.28 592.46 Z" fill="#14b814"/>
<line x1="73.60" y1="593.28" x2="73.60" y2="589.12" stroke="#14b814" stroke-width="1.6"/>
<line x1="71.00" y1="593.28" x2="76.20" y2="593.28" stroke="#14b814" stroke-width="1.6"/>
<line x1="71.00" y1="589.12" x2="76.20" y2="589.12" stroke="#14b814" stroke-width="1.6"/>
<path d="M 73.60 588.20 L 76.60 593.60 L 70.60 593.60 Z" fill="#14b814"/>
<line x1="120.87" y1="591.11" x2="120.87" y2="587.52" stroke="#14b814" stroke-width="1.6"/>
<line x1="118.27" y1="591.11" x2="123.47" y2="591.11" stroke="#14b814" stroke-width="1.6"/>
<line x1="118.27" y1="587.52" x2="123.47" y2="587.52" stroke="#14b814" stroke-width="1.6"/>
<path d="M 120.87 586.31 L 123.87 591.71 L 117.87 591.71 Z" fill="#14b814"/>
<line x1="168.14" y1="595.90" x2="168.14" y2="591.53" stroke="#14b814" stroke-width="1.6"/>
<line x1="165.54" y1="595.90" x2="170.74" y2="595.90" stroke="#14b814" stroke-width="1.6"/>
<line x1="165.54" y1="591.53" x2="170.74" y2="591.53" stroke="#14b814" stroke-width="1.6"/>
<path d="M 168.14 590.72 L 171.14 596.12 L 165.14 596.12 Z" fill="#14b814"/>
<line x1="215.41" y1="594.17" x2="215.41" y2="588.23" stroke="#14b814" stroke-width="1.6"/>
<line x1="212.81" y1="594.17" x2="218.01" y2="594.17" stroke="#14b814" stroke-width="1.6"/>
<line x1="212.81" y1="588.23" x2="218.01" y2="588.23" stroke="#14b814" stroke-width="1.6"/>
<path d="M 215.41 588.20 L 218.41 593.60 L 212.41 593.60 Z" fill="#14b814"/>
<line x1="262.68" y1="590.43" x2="262.68" y2="585.68" stroke="#14b814" stroke-width="1.6"/>
<line x1="260.08" y1="590.43" x2="265.28" y2="590.43" stroke="#14b814" stroke-width="1.6"/>
<line x1="260.08" y1="585.68" x2="265.28" y2="585.68" stroke="#14b814" stroke-width="1.6"/>
<path d="M 262.68 585.06 L 265.68 590.46 L 259.68 590.46 Z" fill="#14b814"/>
<line x1="73.60" y1="594.85" x2="73.60" y2="590.07" stroke="#14b814" stroke-width="1.6"/>
<line x1="71.00" y1="594.85" x2="76.20" y2="594.85" stroke="#14b814" stroke-width="1.6"/>
<line x1="71.00" y1="590.07" x2="76.20" y2="590.07" stroke="#14b814" stroke-width="1.6"/>
<rect x="71.10" y="589.96" width="5.00" height="5.00" fill="#14b814"/>
<line x1="120.87" y1="597.01" x2="120.87" y2="592.94" stroke="#14b814" stroke-width="1.6"/>
<line x1="118.27" y1="597.01" x2="123.47" y2="597.01" stroke="#14b814" stroke-width="1.6"/>
<line x1="118.27" y1="592.94" x2="123.47" y2="592.94" stroke="#14b814" stroke-width="1.6"/>
<rect x="118.37" y="592.47" width="5.00" height="5.00" fill="#14b814"/>
<line x1="168.14" y1="594.62" x2="168.14" y2="590.30" stroke="#14b814" stroke-width="1.6"/>
<line x1="165.54" y1="594.62" x2="170.74" y2="594.62" stroke="#14b814" stroke-width="1.6"/>
<line x1="165.54" y1="590.30" x2="170.74" y2="590.30" stroke="#14b814" stroke-width="1.6"/>
<rect x="165.64" y="589.96" width="5.00" height="5.00" fill="#14b814"/>
<line x1="215.41" y1="599.24" x2="215.41" y2="591.97" stroke="#14b814" stroke-width="1.6"/>
<line x1="212.81" y1="599.24" x2="218.01" y2="599.24" stroke="#14b814" stroke-width="1.6"/>
<line x1="212.81" y1="591.97" x2="218.01" y2="591.97" stroke="#14b814" stroke-width="1.6"/>
<rect x="212.91" y="593.10" width="5.00" height="5.00" fill="#14b814"/>
<line x1="262.68" y1="592.94" x2="262.68" y2="586.94" stroke="#14b814" stroke-width="1.6"/>
<line x1="260.08" y1="592.94" x2="265.28" y2="592.94" stroke="#14b814" stroke-width="1.6"/>
<line x1="260.08" y1="586.94" x2="265.28" y2="586.94" stroke="#14b814" stroke-width="1.6"/>
<rect x="260.18" y="587.44" width="5.00" height="5.00" fill="#14b814"/>
<line x1="73.60" y1="600.40" x2="73.60" y2="594.58" stroke="#14b814" stroke-width="1.6"/>
<line x1="71.00" y1="600.40" x2="76.20" y2="600.40" stroke="#14b814" stroke-width="1.6"/>
<line x1="71.00" y1="594.58" x2="76.20" y2="594.58" stroke="#14b814" stroke-width="1.6"/>
<circle cx="73.60" cy="597.49" r="2.70" fill="#14b814"/>
<line x1="120.87" y1="608.25" x2="120.87" y2="604.35" stroke="#14b814" stroke-width="1.6"/>
<line x1="118.27" y1="608.25" x2="123.47" y2="608.25" stroke="#14b814" stroke-width="1.6"/>
<line x1="118.27" y1="604.35" x2="123.47" y2="604.35" stroke="#14b814" stroke-width="1.6"/>
<circle cx="120.87" cy="606.30" r="2.70" fill="#14b814"/>
<line x1="168.14" y1="597.52" x2="168.14" y2="591.17" stroke="#14b814" stroke-width="1.6"/>
<line x1="165.54" y1="597.52" x2="170.74" y2="597.52" stroke="#14b814" stroke-width="1.6"/>
<line x1="165.54" y1="591.17" x2="170.74" y2="591.17" stroke="#14b814" stroke-width="1.6"/>
<circle cx="168.14" cy="594.35" r="2.70" fill="#14b814"/>
<line x1="215.41" y1="599.42" x2="215.41" y2="595.56" stroke="#14b814" stroke-width="1.6"/>
<line x1="212.81" y1="599.42" x2="218.01" y2="599.42" stroke="#14b814" stroke-width="1.6"/>
<line x1="212.81" y1="595.56" x2="218.01" y2="595.56" stroke="#14b814" stroke-width="1.6"/>
<circle cx="215.41" cy="597.49" r="2.70" fill="#14b814"/>
<line x1="262.68" y1="596.75" x2="262.68" y2="591.94" stroke="#14b814" stroke-width="1.6"/>
<line x1="260.08" y1="596.75" x2="265.28" y2="596.75" stroke="#14b814" stroke-width="1.6"/>
<line x1="260.08" y1="591.94" x2="265.28" y2="591.94" stroke="#14b814" stroke-width="1.6"/>
<circle cx="262.68" cy="594.35" r="2.70" fill="#14b814"/>
<line x1="304.20" y1="524.20" x2="318.90" y2="524.20" stroke="#88ee22" stroke-width="1.6"/>
<circle cx="311.60" cy="524.20" r="2.97" fill="#88ee22"/>
<text x="328.00" y="527.80" font-size="10.4" fill="#22ee22" text-anchor="start" font-weight="bold" textLength="19.74" lengthAdjust="spacingAndGlyphs">PBS</text>
<line x1="304.20" y1="540.00" x2="318.90" y2="540.00" stroke="#14b814" stroke-width="1.6"/>
<circle cx="311.60" cy="540.00" r="2.97" fill="#14b814"/>
<text x="328.00" y="543.60" font-size="10.4" fill="#14b814" text-anchor="start" font-weight="bold" textLength="65.60" lengthAdjust="spacingAndGlyphs">Oxaliplatin (O)</text>
<line x1="304.20" y1="554.90" x2="318.90" y2="554.90" stroke="#14b814" stroke-width="1.6"/>
<rect x="308.85" y="552.15" width="5.50" height="5.50" fill="#14b814"/>
<text x="328.00" y="558.50" font-size="10.4" fill="#14b814" text-anchor="start" font-weight="bold" textLength="46.40" lengthAdjust="spacingAndGlyphs">CCL19 (C)</text>
<line x1="304.20" y1="570.90" x2="318.90" y2="570.90" stroke="#14b814" stroke-width="1.6"/>
<path d="M 311.60 567.60 L 314.90 573.54 L 308.30 573.54 Z" fill="#14b814"/>
<text x="328.00" y="574.50" font-size="10.4" fill="#14b814" text-anchor="start" font-weight="bold" textLength="60.26" lengthAdjust="spacingAndGlyphs">anti-PDL1 (P)</text>
<line x1="304.20" y1="586.30" x2="318.90" y2="586.30" stroke="#14b814" stroke-width="1.6"/>
<path d="M 311.60 583.00 L 314.24 586.30 L 311.60 589.60 L 308.96 586.30 Z" fill="#14b814"/>
<text x="328.00" y="589.90" font-size="10.4" fill="#14b814" text-anchor="start" font-weight="bold" textLength="34.66" lengthAdjust="spacingAndGlyphs">ZIF8 (Z)</text>
<line x1="304.20" y1="604.70" x2="318.90" y2="604.70" stroke="#1e88f0" stroke-width="1.6"/>
<circle cx="311.60" cy="604.70" r="2.97" fill="#1e88f0"/>
<text x="328.00" y="608.30" font-size="10.4" fill="#1e88f0" text-anchor="start" font-weight="bold" textLength="36.56" lengthAdjust="spacingAndGlyphs">O@ZIF8</text>
<line x1="304.20" y1="623.00" x2="318.90" y2="623.00" stroke="#1e88f0" stroke-width="1.6"/>
<rect x="308.85" y="620.25" width="5.50" height="5.50" fill="#1e88f0"/>
<text x="328.00" y="626.60" font-size="10.4" fill="#1e88f0" text-anchor="start" font-weight="bold" textLength="36.03" lengthAdjust="spacingAndGlyphs">C@ZIF8</text>
<line x1="304.20" y1="641.80" x2="318.90" y2="641.80" stroke="#1e88f0" stroke-width="1.6"/>
<path d="M 311.60 638.50 L 314.90 644.44 L 308.30 644.44 Z" fill="#1e88f0"/>
<text x="328.00" y="645.40" font-size="10.4" fill="#1e88f0" text-anchor="start" font-weight="bold" textLength="43.49" lengthAdjust="spacingAndGlyphs">OC@ZIF8</text>
<line x1="304.20" y1="660.30" x2="318.90" y2="660.30" stroke="#0c1688" stroke-width="1.6"/>
<circle cx="311.60" cy="660.30" r="2.97" fill="#0c1688"/>
<text x="328.00" y="663.90" font-size="10.4" fill="#0c1688" text-anchor="start" font-weight="bold" textLength="18.67" lengthAdjust="spacingAndGlyphs">ZPP</text>
<line x1="304.20" y1="678.30" x2="318.90" y2="678.30" stroke="#0c1688" stroke-width="1.6"/>
<rect x="308.85" y="675.55" width="5.50" height="5.50" fill="#0c1688"/>
<text x="328.00" y="681.90" font-size="10.4" fill="#0c1688" text-anchor="start" font-weight="bold" textLength="35.50" lengthAdjust="spacingAndGlyphs">O@ZPP</text>
<line x1="304.20" y1="696.80" x2="318.90" y2="696.80" stroke="#0c1688" stroke-width="1.6"/>
<path d="M 311.60 693.50 L 314.90 699.44 L 308.30 699.44 Z" fill="#0c1688"/>
<text x="328.00" y="700.40" font-size="10.4" fill="#0c1688" text-anchor="start" font-weight="bold" textLength="34.97" lengthAdjust="spacingAndGlyphs">C@ZPP</text>
<line x1="304.20" y1="715.20" x2="318.90" y2="715.20" stroke="#ff1a1a" stroke-width="1.6"/>
<circle cx="311.60" cy="715.20" r="2.97" fill="#ff1a1a"/>
<text x="328.00" y="718.80" font-size="10.4" fill="#ff1a1a" text-anchor="start" font-weight="bold" textLength="42.43" lengthAdjust="spacingAndGlyphs">OC@ZPP</text>
</svg>
</body></html>
